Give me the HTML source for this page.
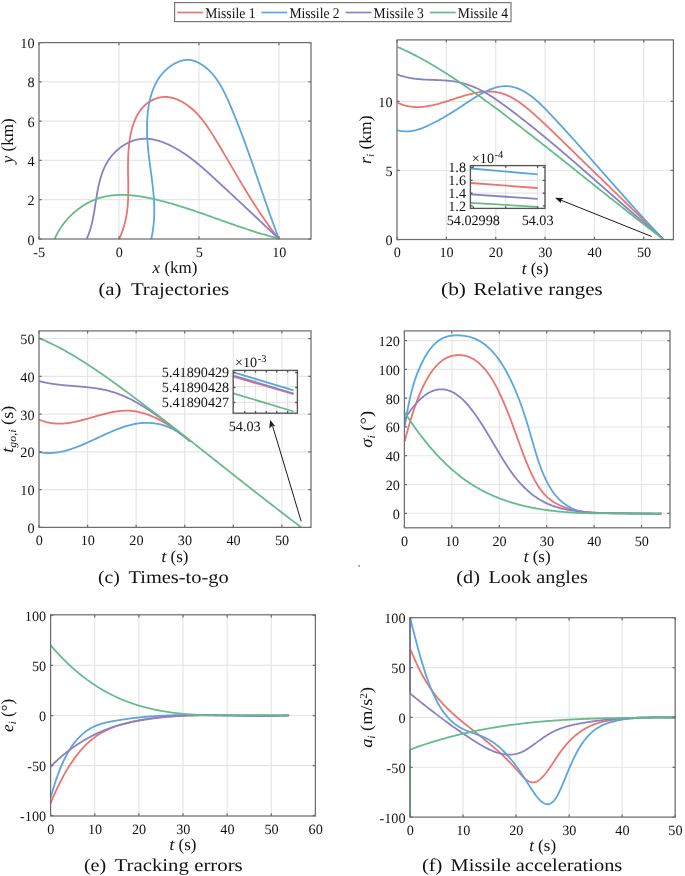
<!DOCTYPE html><html><head><meta charset="utf-8"><style>html,body{margin:0;padding:0;background:#fff;width:685px;height:876px;overflow:hidden}svg{display:block}text{font-family:"Liberation Serif","DejaVu Serif",serif;fill:#111;text-rendering:geometricPrecision}</style></head><body>
<svg width="685" height="876" viewBox="0 0 685 876">
<rect x="174.6" y="2.6" width="336.4" height="19" fill="#fff" stroke="#777" stroke-width="1.2"/>
<path d="M177.20,12.5H203.10" stroke="#EA746F" stroke-width="1.7"/>
<text x="205.20" y="17.7" font-size="14.8" textLength="50.3" lengthAdjust="spacingAndGlyphs">Missile 1</text>
<path d="M261.40,12.5H287.30" stroke="#5AA7DE" stroke-width="1.7"/>
<text x="289.40" y="17.7" font-size="14.8" textLength="50.3" lengthAdjust="spacingAndGlyphs">Missile 2</text>
<path d="M345.60,12.5H371.50" stroke="#8881C6" stroke-width="1.7"/>
<text x="373.60" y="17.7" font-size="14.8" textLength="50.3" lengthAdjust="spacingAndGlyphs">Missile 3</text>
<path d="M429.80,12.5H455.70" stroke="#66BC89" stroke-width="1.7"/>
<text x="457.80" y="17.7" font-size="14.8" textLength="50.3" lengthAdjust="spacingAndGlyphs">Missile 4</text>
<path d="M119.00,42.60V239.00M199.00,42.60V239.00M279.00,42.60V239.00M39.00,199.72H311.00M39.00,160.44H311.00M39.00,121.16H311.00M39.00,81.88H311.00" stroke="#e6e6e6" stroke-width="1.20" fill="none"/>
<path d="M118.96,239.41 L119.50,238.23 L120.02,237.05 L120.52,235.87 L121.00,234.70 L121.46,233.53 L121.90,232.36 L122.32,231.20 L122.73,230.04 L123.11,228.89 L123.48,227.73 L123.83,226.58 L124.16,225.44 L124.48,224.30 L124.78,223.16 L125.07,222.02 L125.34,220.88 L125.59,219.75 L125.83,218.62 L126.06,217.49 L126.27,216.36 L126.47,215.24 L126.66,214.11 L126.83,212.99 L126.99,211.87 L127.14,210.75 L127.28,209.63 L127.41,208.51 L127.52,207.39 L127.63,206.28 L127.73,205.16 L127.81,204.05 L127.89,202.93 L127.96,201.81 L128.02,200.70 L128.08,199.58 L128.12,198.47 L128.16,197.35 L128.19,196.24 L128.22,195.12 L128.24,194.00 L128.26,192.88 L128.27,191.76 L128.27,190.64 L128.27,189.52 L128.27,188.39 L128.26,187.27 L128.25,186.14 L128.24,185.01 L128.23,183.88 L128.21,182.75 L128.19,181.61 L128.17,180.48 L128.16,179.34 L128.14,178.19 L128.12,177.05 L128.10,175.90 L128.08,174.75 L128.06,173.59 L128.05,172.43 L128.03,171.27 L128.02,170.11 L128.02,168.94 L128.01,167.77 L128.01,166.59 L128.01,165.41 L128.02,164.22 L128.03,163.03 L128.05,161.84 L128.08,160.64 L128.10,159.44 L128.14,158.23 L128.18,157.02 L128.23,155.80 L128.29,154.58 L128.36,153.35 L128.43,152.12 L128.51,150.89 L128.61,149.66 L128.71,148.42 L128.82,147.19 L128.94,145.95 L129.07,144.72 L129.21,143.48 L129.37,142.25 L129.53,141.03 L129.71,139.80 L129.90,138.58 L130.10,137.37 L130.32,136.16 L130.54,134.95 L130.79,133.75 L131.04,132.56 L131.32,131.38 L131.60,130.21 L131.90,129.04 L132.22,127.89 L132.55,126.74 L132.90,125.61 L133.27,124.49 L133.65,123.38 L134.05,122.28 L134.47,121.20 L134.91,120.13 L135.36,119.07 L135.84,118.03 L136.33,117.01 L136.84,116.01 L137.38,115.02 L137.93,114.05 L138.50,113.10 L139.10,112.17 L139.71,111.25 L140.35,110.36 L141.01,109.49 L141.70,108.65 L142.40,107.82 L143.13,107.02 L143.89,106.24 L144.66,105.49 L145.46,104.76 L146.29,104.06 L147.14,103.38 L148.02,102.73 L148.92,102.11 L149.85,101.52 L150.80,100.95 L151.79,100.42 L152.80,99.92 L153.83,99.44 L154.89,99.01 L155.97,98.60 L157.06,98.24 L158.18,97.92 L159.30,97.64 L160.44,97.40 L161.59,97.21 L162.75,97.06 L163.91,96.97 L165.07,96.93 L166.23,96.94 L167.40,97.01 L168.56,97.12 L169.71,97.29 L170.86,97.50 L172.01,97.76 L173.15,98.07 L174.28,98.41 L175.41,98.79 L176.52,99.21 L177.63,99.66 L178.72,100.14 L179.80,100.65 L180.86,101.19 L181.92,101.75 L182.95,102.34 L183.97,102.94 L184.97,103.57 L185.96,104.21 L186.93,104.88 L187.88,105.55 L188.82,106.25 L189.74,106.96 L190.65,107.69 L191.54,108.44 L192.42,109.20 L193.29,109.98 L194.14,110.76 L194.98,111.57 L195.80,112.39 L196.62,113.22 L197.42,114.06 L198.21,114.91 L198.99,115.78 L199.76,116.66 L200.51,117.55 L201.26,118.45 L202.00,119.36 L202.72,120.27 L203.44,121.20 L204.15,122.14 L204.85,123.08 L205.55,124.03 L206.23,124.99 L206.91,125.96 L207.58,126.93 L208.25,127.91 L208.90,128.89 L209.56,129.88 L210.20,130.87 L210.85,131.87 L211.48,132.87 L212.11,133.87 L212.74,134.88 L213.37,135.89 L213.99,136.90 L214.61,137.91 L215.22,138.92 L215.84,139.93 L216.45,140.95 L217.06,141.96 L217.67,142.97 L218.27,143.98 L218.88,145.00 L219.48,146.01 L220.08,147.02 L220.69,148.03 L221.29,149.04 L221.88,150.05 L222.48,151.06 L223.08,152.07 L223.67,153.08 L224.27,154.09 L224.86,155.10 L225.45,156.10 L226.04,157.11 L226.64,158.12 L227.23,159.12 L227.82,160.13 L228.40,161.14 L228.99,162.14 L229.58,163.14 L230.17,164.15 L230.76,165.15 L231.34,166.16 L231.93,167.16 L232.52,168.16 L233.10,169.16 L233.69,170.16 L234.28,171.16 L234.86,172.16 L235.45,173.16 L236.04,174.16 L236.63,175.16 L237.21,176.15 L237.80,177.15 L238.39,178.15 L238.98,179.14 L239.57,180.14 L240.16,181.13 L240.75,182.12 L241.34,183.12 L241.93,184.11 L242.53,185.10 L243.12,186.09 L243.72,187.08 L244.31,188.07 L244.91,189.05 L245.51,190.04 L246.11,191.03 L246.71,192.01 L247.31,193.00 L247.92,193.98 L248.52,194.96 L249.13,195.95 L249.74,196.93 L250.35,197.91 L250.96,198.89 L251.57,199.87 L252.19,200.84 L252.80,201.82 L253.42,202.80 L254.04,203.77 L254.67,204.75 L255.29,205.72 L255.92,206.69 L256.55,207.66 L257.18,208.63 L257.81,209.60 L258.45,210.57 L259.09,211.54 L259.73,212.50 L260.38,213.47 L261.02,214.43 L261.67,215.39 L262.32,216.35 L262.98,217.31 L263.64,218.27 L264.30,219.23 L264.96,220.19 L265.63,221.15 L266.30,222.10 L266.97,223.05 L267.65,224.01 L268.33,224.96 L269.01,225.91 L269.70,226.86 L270.39,227.81 L271.08,228.75 L271.78,229.70 L272.48,230.64 L273.18,231.59 L273.89,232.53 L274.61,233.47 L275.32,234.41 L276.04,235.34 L276.76,236.28 L277.49,237.22 L278.23,238.15 L278.96,239.08" stroke="#EA746F" stroke-width="1.80" fill="none" stroke-linejoin="round" stroke-linecap="butt"/>
<path d="M151.18,239.27 L151.50,237.85 L151.79,236.43 L152.07,235.02 L152.33,233.61 L152.57,232.21 L152.79,230.81 L153.00,229.42 L153.19,228.03 L153.36,226.64 L153.52,225.26 L153.66,223.88 L153.79,222.51 L153.90,221.14 L153.99,219.77 L154.07,218.41 L154.14,217.05 L154.20,215.69 L154.24,214.34 L154.27,212.99 L154.28,211.64 L154.29,210.30 L154.28,208.95 L154.26,207.61 L154.23,206.28 L154.19,204.94 L154.14,203.61 L154.08,202.28 L154.01,200.95 L153.94,199.62 L153.85,198.29 L153.76,196.97 L153.65,195.64 L153.54,194.32 L153.43,193.00 L153.30,191.68 L153.17,190.36 L153.04,189.04 L152.90,187.72 L152.75,186.40 L152.60,185.08 L152.45,183.76 L152.29,182.44 L152.12,181.13 L151.96,179.81 L151.79,178.49 L151.62,177.17 L151.45,175.85 L151.27,174.53 L151.09,173.21 L150.92,171.88 L150.74,170.56 L150.56,169.24 L150.38,167.91 L150.21,166.58 L150.03,165.25 L149.85,163.92 L149.68,162.59 L149.51,161.25 L149.34,159.91 L149.17,158.57 L149.01,157.23 L148.85,155.89 L148.70,154.54 L148.55,153.19 L148.40,151.84 L148.26,150.48 L148.12,149.12 L147.99,147.76 L147.87,146.39 L147.75,145.02 L147.64,143.65 L147.54,142.27 L147.45,140.89 L147.36,139.51 L147.28,138.12 L147.21,136.72 L147.15,135.33 L147.10,133.92 L147.06,132.52 L147.03,131.11 L147.01,129.69 L147.01,128.27 L147.01,126.85 L147.03,125.43 L147.05,124.01 L147.10,122.59 L147.15,121.16 L147.22,119.74 L147.30,118.32 L147.40,116.90 L147.51,115.48 L147.63,114.07 L147.78,112.65 L147.93,111.25 L148.11,109.85 L148.30,108.45 L148.51,107.06 L148.73,105.68 L148.97,104.30 L149.24,102.93 L149.52,101.57 L149.82,100.22 L150.13,98.88 L150.47,97.54 L150.83,96.22 L151.21,94.91 L151.61,93.62 L152.04,92.33 L152.48,91.06 L152.95,89.80 L153.43,88.56 L153.95,87.33 L154.48,86.12 L155.04,84.92 L155.62,83.74 L156.23,82.58 L156.87,81.43 L157.52,80.30 L158.21,79.20 L158.92,78.11 L159.66,77.04 L160.42,76.00 L161.21,74.97 L162.03,73.97 L162.88,72.99 L163.75,72.03 L164.66,71.10 L165.59,70.19 L166.56,69.31 L167.55,68.45 L168.58,67.62 L169.63,66.81 L170.72,66.04 L171.84,65.29 L172.99,64.57 L174.17,63.88 L175.38,63.22 L176.62,62.61 L177.89,62.04 L179.17,61.52 L180.47,61.06 L181.78,60.66 L183.11,60.33 L184.44,60.08 L185.77,59.91 L187.11,59.83 L188.44,59.84 L189.76,59.95 L191.08,60.15 L192.39,60.43 L193.68,60.78 L194.96,61.21 L196.22,61.70 L197.47,62.25 L198.69,62.86 L199.89,63.51 L201.07,64.20 L202.22,64.93 L203.34,65.68 L204.43,66.47 L205.50,67.29 L206.54,68.13 L207.55,69.00 L208.54,69.90 L209.51,70.83 L210.45,71.78 L211.37,72.75 L212.26,73.74 L213.14,74.76 L214.00,75.80 L214.83,76.86 L215.65,77.94 L216.44,79.04 L217.22,80.15 L217.98,81.29 L218.73,82.44 L219.45,83.60 L220.17,84.78 L220.86,85.97 L221.55,87.17 L222.22,88.39 L222.88,89.61 L223.52,90.85 L224.15,92.10 L224.78,93.35 L225.39,94.61 L225.99,95.88 L226.59,97.15 L227.17,98.43 L227.75,99.71 L228.33,100.99 L228.89,102.28 L229.45,103.57 L230.01,104.85 L230.56,106.14 L231.11,107.43 L231.65,108.71 L232.19,110.00 L232.73,111.28 L233.26,112.56 L233.79,113.85 L234.32,115.13 L234.84,116.41 L235.36,117.69 L235.87,118.97 L236.39,120.25 L236.90,121.53 L237.40,122.81 L237.90,124.08 L238.40,125.36 L238.90,126.64 L239.40,127.91 L239.89,129.19 L240.38,130.46 L240.86,131.74 L241.35,133.01 L241.83,134.28 L242.31,135.55 L242.78,136.83 L243.26,138.10 L243.73,139.37 L244.20,140.64 L244.67,141.91 L245.13,143.18 L245.60,144.46 L246.06,145.73 L246.52,147.00 L246.98,148.27 L247.43,149.54 L247.89,150.80 L248.34,152.07 L248.79,153.34 L249.24,154.61 L249.69,155.88 L250.14,157.15 L250.59,158.42 L251.03,159.69 L251.47,160.96 L251.92,162.23 L252.36,163.49 L252.80,164.76 L253.24,166.03 L253.68,167.30 L254.12,168.57 L254.55,169.84 L254.99,171.11 L255.43,172.38 L255.86,173.65 L256.30,174.92 L256.73,176.19 L257.17,177.46 L257.60,178.73 L258.04,180.00 L258.47,181.27 L258.91,182.54 L259.34,183.82 L259.78,185.09 L260.21,186.36 L260.64,187.63 L261.08,188.91 L261.52,190.18 L261.95,191.46 L262.39,192.73 L262.82,194.01 L263.26,195.28 L263.70,196.56 L264.14,197.83 L264.58,199.11 L265.02,200.39 L265.46,201.67 L265.90,202.95 L266.35,204.23 L266.79,205.51 L267.24,206.79 L267.69,208.07 L268.14,209.35 L268.59,210.64 L269.04,211.92 L269.49,213.21 L269.94,214.49 L270.40,215.78 L270.86,217.07 L271.32,218.36 L271.78,219.64 L272.24,220.93 L272.71,222.23 L273.18,223.52 L273.65,224.81 L274.12,226.10 L274.59,227.40 L275.07,228.70 L275.55,229.99 L276.03,231.29 L276.51,232.59 L277.00,233.89 L277.49,235.19 L277.98,236.49 L278.48,237.80 L278.97,239.10" stroke="#5AA7DE" stroke-width="1.80" fill="none" stroke-linejoin="round" stroke-linecap="butt"/>
<path d="M86.67,238.70 L87.06,237.87 L87.44,237.04 L87.81,236.19 L88.17,235.34 L88.51,234.48 L88.84,233.61 L89.16,232.73 L89.48,231.84 L89.78,230.95 L90.07,230.05 L90.35,229.14 L90.62,228.22 L90.88,227.30 L91.13,226.37 L91.38,225.43 L91.62,224.49 L91.85,223.54 L92.07,222.59 L92.29,221.63 L92.50,220.66 L92.70,219.69 L92.90,218.72 L93.09,217.74 L93.28,216.76 L93.46,215.77 L93.64,214.78 L93.82,213.78 L93.99,212.78 L94.16,211.78 L94.33,210.78 L94.49,209.77 L94.65,208.76 L94.81,207.75 L94.97,206.74 L95.13,205.72 L95.29,204.71 L95.45,203.69 L95.60,202.67 L95.76,201.65 L95.92,200.63 L96.08,199.61 L96.24,198.59 L96.41,197.57 L96.57,196.55 L96.74,195.53 L96.92,194.51 L97.09,193.50 L97.27,192.48 L97.46,191.47 L97.64,190.46 L97.84,189.45 L98.04,188.44 L98.24,187.44 L98.45,186.43 L98.67,185.44 L98.89,184.44 L99.12,183.45 L99.36,182.46 L99.61,181.48 L99.86,180.50 L100.12,179.52 L100.39,178.55 L100.68,177.58 L100.97,176.62 L101.27,175.67 L101.58,174.72 L101.90,173.78 L102.23,172.84 L102.58,171.91 L102.93,170.98 L103.30,170.07 L103.68,169.16 L104.08,168.25 L104.49,167.36 L104.91,166.47 L105.34,165.59 L105.79,164.72 L106.26,163.86 L106.74,163.00 L107.23,162.16 L107.74,161.32 L108.27,160.50 L108.81,159.68 L109.37,158.87 L109.95,158.08 L110.54,157.29 L111.14,156.52 L111.76,155.76 L112.40,155.00 L113.04,154.27 L113.70,153.54 L114.38,152.83 L115.07,152.13 L115.77,151.44 L116.48,150.77 L117.21,150.11 L117.94,149.47 L118.69,148.84 L119.45,148.23 L120.22,147.63 L121.00,147.05 L121.79,146.49 L122.60,145.94 L123.41,145.41 L124.23,144.90 L125.06,144.40 L125.90,143.93 L126.75,143.47 L127.60,143.03 L128.47,142.61 L129.34,142.21 L130.22,141.82 L131.11,141.46 L132.00,141.12 L132.90,140.80 L133.80,140.51 L134.72,140.23 L135.63,139.98 L136.56,139.74 L137.48,139.53 L138.42,139.35 L139.35,139.18 L140.29,139.04 L141.24,138.93 L142.19,138.84 L143.14,138.77 L144.09,138.73 L145.05,138.71 L146.01,138.72 L146.97,138.76 L147.93,138.81 L148.89,138.89 L149.86,138.99 L150.83,139.11 L151.80,139.26 L152.76,139.42 L153.73,139.61 L154.70,139.81 L155.67,140.04 L156.64,140.28 L157.61,140.54 L158.57,140.82 L159.54,141.11 L160.50,141.42 L161.46,141.75 L162.42,142.09 L163.38,142.45 L164.34,142.82 L165.29,143.21 L166.24,143.61 L167.19,144.02 L168.13,144.44 L169.07,144.88 L170.00,145.32 L170.93,145.78 L171.86,146.25 L172.78,146.72 L173.70,147.21 L174.61,147.70 L175.51,148.20 L176.41,148.71 L177.31,149.23 L178.19,149.75 L179.08,150.28 L179.95,150.81 L180.82,151.35 L181.68,151.90 L182.53,152.44 L183.38,153.00 L184.23,153.56 L185.06,154.12 L185.90,154.69 L186.72,155.26 L187.54,155.84 L188.36,156.42 L189.17,157.01 L189.98,157.60 L190.78,158.19 L191.57,158.79 L192.37,159.39 L193.15,160.00 L193.94,160.61 L194.72,161.22 L195.49,161.84 L196.26,162.46 L197.03,163.08 L197.79,163.71 L198.55,164.34 L199.31,164.97 L200.07,165.60 L200.82,166.24 L201.57,166.88 L202.31,167.52 L203.06,168.17 L203.80,168.81 L204.54,169.46 L205.27,170.11 L206.01,170.77 L206.74,171.42 L207.47,172.08 L208.20,172.74 L208.93,173.40 L209.66,174.06 L210.38,174.72 L211.11,175.38 L211.83,176.05 L212.56,176.71 L213.28,177.38 L214.00,178.04 L214.72,178.71 L215.45,179.38 L216.17,180.05 L216.89,180.72 L217.61,181.38 L218.33,182.05 L219.06,182.72 L219.78,183.39 L220.50,184.06 L221.23,184.73 L221.95,185.40 L222.67,186.07 L223.39,186.74 L224.12,187.42 L224.84,188.09 L225.56,188.76 L226.29,189.43 L227.01,190.10 L227.74,190.78 L228.46,191.45 L229.18,192.12 L229.91,192.79 L230.63,193.47 L231.36,194.14 L232.08,194.82 L232.80,195.49 L233.53,196.16 L234.25,196.84 L234.98,197.51 L235.70,198.19 L236.42,198.86 L237.15,199.54 L237.87,200.22 L238.60,200.89 L239.32,201.57 L240.04,202.24 L240.77,202.92 L241.49,203.60 L242.22,204.27 L242.94,204.95 L243.66,205.63 L244.39,206.31 L245.11,206.98 L245.84,207.66 L246.56,208.34 L247.28,209.02 L248.01,209.70 L248.73,210.38 L249.45,211.06 L250.18,211.74 L250.90,212.42 L251.62,213.09 L252.35,213.77 L253.07,214.45 L253.79,215.13 L254.51,215.82 L255.24,216.50 L255.96,217.18 L256.68,217.86 L257.40,218.54 L258.13,219.22 L258.85,219.90 L259.57,220.58 L260.29,221.26 L261.01,221.95 L261.73,222.63 L262.45,223.31 L263.17,223.99 L263.89,224.67 L264.61,225.36 L265.33,226.04 L266.05,226.72 L266.77,227.41 L267.49,228.09 L268.21,228.77 L268.93,229.46 L269.65,230.14 L270.37,230.82 L271.09,231.51 L271.81,232.19 L272.52,232.88 L273.24,233.56 L273.96,234.24 L274.68,234.93 L275.39,235.61 L276.11,236.30 L276.82,236.98 L277.54,237.67 L278.26,238.35 L278.97,239.04" stroke="#8881C6" stroke-width="1.80" fill="none" stroke-linejoin="round" stroke-linecap="butt"/>
<path d="M54.57,239.18 L54.90,238.42 L55.23,237.66 L55.58,236.90 L55.93,236.14 L56.30,235.39 L56.68,234.64 L57.06,233.90 L57.46,233.16 L57.86,232.42 L58.27,231.69 L58.70,230.96 L59.13,230.24 L59.57,229.52 L60.02,228.80 L60.48,228.09 L60.95,227.39 L61.42,226.69 L61.91,225.99 L62.40,225.30 L62.90,224.62 L63.41,223.94 L63.93,223.26 L64.45,222.59 L64.98,221.93 L65.52,221.27 L66.07,220.62 L66.63,219.97 L67.19,219.33 L67.76,218.70 L68.34,218.07 L68.92,217.45 L69.51,216.84 L70.11,216.23 L70.71,215.63 L71.32,215.03 L71.94,214.44 L72.56,213.86 L73.19,213.29 L73.83,212.72 L74.47,212.16 L75.11,211.61 L75.77,211.06 L76.43,210.53 L77.09,210.00 L77.76,209.47 L78.43,208.96 L79.11,208.45 L79.80,207.96 L80.49,207.47 L81.18,206.99 L81.88,206.51 L82.58,206.05 L83.29,205.59 L84.00,205.15 L84.72,204.71 L85.44,204.28 L86.16,203.86 L86.89,203.45 L87.63,203.04 L88.36,202.65 L89.10,202.27 L89.84,201.89 L90.59,201.53 L91.34,201.18 L92.09,200.83 L92.85,200.50 L93.61,200.17 L94.37,199.86 L95.13,199.56 L95.90,199.26 L96.66,198.98 L97.44,198.71 L98.21,198.44 L98.98,198.19 L99.76,197.95 L100.54,197.72 L101.32,197.50 L102.11,197.29 L102.89,197.09 L103.68,196.89 L104.47,196.71 L105.26,196.54 L106.05,196.38 L106.85,196.22 L107.65,196.08 L108.45,195.94 L109.25,195.81 L110.05,195.69 L110.85,195.58 L111.66,195.48 L112.46,195.39 L113.27,195.30 L114.08,195.23 L114.89,195.16 L115.70,195.10 L116.51,195.05 L117.33,195.00 L118.14,194.97 L118.96,194.94 L119.78,194.91 L120.60,194.90 L121.42,194.89 L122.24,194.89 L123.06,194.90 L123.88,194.91 L124.71,194.93 L125.53,194.96 L126.35,194.99 L127.18,195.03 L128.01,195.08 L128.83,195.13 L129.66,195.19 L130.49,195.25 L131.32,195.32 L132.15,195.40 L132.97,195.48 L133.80,195.57 L134.63,195.66 L135.46,195.76 L136.29,195.87 L137.13,195.97 L137.96,196.09 L138.79,196.21 L139.62,196.33 L140.45,196.46 L141.28,196.59 L142.11,196.73 L142.94,196.87 L143.77,197.01 L144.60,197.16 L145.43,197.31 L146.26,197.47 L147.09,197.63 L147.92,197.80 L148.75,197.97 L149.57,198.14 L150.40,198.31 L151.23,198.49 L152.06,198.67 L152.88,198.86 L153.71,199.04 L154.53,199.23 L155.35,199.43 L156.18,199.62 L157.00,199.82 L157.82,200.02 L158.64,200.22 L159.46,200.42 L160.28,200.63 L161.09,200.84 L161.91,201.05 L162.72,201.26 L163.54,201.47 L164.35,201.69 L165.16,201.91 L165.97,202.12 L166.78,202.35 L167.59,202.57 L168.40,202.79 L169.21,203.02 L170.01,203.25 L170.82,203.47 L171.62,203.70 L172.43,203.94 L173.23,204.17 L174.03,204.41 L174.83,204.64 L175.63,204.88 L176.43,205.12 L177.23,205.36 L178.03,205.60 L178.83,205.85 L179.62,206.09 L180.42,206.34 L181.21,206.59 L182.01,206.83 L182.80,207.08 L183.60,207.34 L184.39,207.59 L185.18,207.84 L185.97,208.10 L186.76,208.35 L187.55,208.61 L188.34,208.87 L189.13,209.13 L189.92,209.39 L190.71,209.65 L191.50,209.91 L192.28,210.17 L193.07,210.43 L193.86,210.70 L194.64,210.96 L195.43,211.23 L196.21,211.50 L197.00,211.76 L197.78,212.03 L198.57,212.30 L199.35,212.57 L200.13,212.84 L200.91,213.11 L201.70,213.38 L202.48,213.65 L203.26,213.93 L204.04,214.20 L204.82,214.47 L205.60,214.75 L206.39,215.02 L207.17,215.30 L207.95,215.57 L208.73,215.85 L209.51,216.12 L210.29,216.40 L211.07,216.68 L211.85,216.95 L212.63,217.23 L213.41,217.51 L214.19,217.79 L214.96,218.06 L215.74,218.34 L216.52,218.62 L217.30,218.90 L218.08,219.17 L218.86,219.45 L219.64,219.73 L220.42,220.01 L221.20,220.29 L221.98,220.56 L222.76,220.84 L223.54,221.12 L224.32,221.40 L225.10,221.67 L225.88,221.95 L226.66,222.23 L227.44,222.50 L228.22,222.78 L229.00,223.05 L229.78,223.33 L230.56,223.60 L231.34,223.88 L232.12,224.15 L232.90,224.43 L233.68,224.70 L234.47,224.97 L235.25,225.25 L236.03,225.52 L236.82,225.79 L237.60,226.06 L238.38,226.33 L239.17,226.60 L239.95,226.87 L240.74,227.13 L241.52,227.40 L242.31,227.67 L243.09,227.93 L243.88,228.20 L244.67,228.46 L245.46,228.72 L246.24,228.99 L247.03,229.25 L247.82,229.51 L248.61,229.77 L249.40,230.03 L250.19,230.28 L250.99,230.54 L251.78,230.80 L252.57,231.05 L253.36,231.30 L254.16,231.55 L254.95,231.80 L255.75,232.05 L256.55,232.30 L257.34,232.55 L258.14,232.79 L258.94,233.04 L259.74,233.28 L260.54,233.52 L261.34,233.76 L262.14,234.00 L262.94,234.24 L263.74,234.48 L264.55,234.71 L265.35,234.94 L266.16,235.17 L266.97,235.40 L267.77,235.63 L268.58,235.86 L269.39,236.08 L270.20,236.31 L271.01,236.53 L271.82,236.75 L272.64,236.97 L273.45,237.18 L274.27,237.40 L275.08,237.61 L275.90,237.82 L276.72,238.03 L277.54,238.24 L278.36,238.44 L279.18,238.65" stroke="#66BC89" stroke-width="1.80" fill="none" stroke-linejoin="round" stroke-linecap="butt"/>
<path d="M39.00,239.00V236.30M39.00,42.60V45.30M119.00,239.00V236.30M119.00,42.60V45.30M199.00,239.00V236.30M199.00,42.60V45.30M279.00,239.00V236.30M279.00,42.60V45.30M39.00,239.00H41.70M311.00,239.00H308.30M39.00,199.72H41.70M311.00,199.72H308.30M39.00,160.44H41.70M311.00,160.44H308.30M39.00,121.16H41.70M311.00,121.16H308.30M39.00,81.88H41.70M311.00,81.88H308.30M39.00,42.60H41.70M311.00,42.60H308.30" stroke="#6e6e6e" stroke-width="1.25" fill="none"/>
<rect x="39.00" y="42.60" width="272.00" height="196.40" fill="none" stroke="#6e6e6e" stroke-width="1.25"/>
<text x="39.25" y="256.80" font-size="14.20" text-anchor="middle" >-5</text>
<text x="119.25" y="256.80" font-size="14.20" text-anchor="middle" >0</text>
<text x="199.25" y="256.80" font-size="14.20" text-anchor="middle" >5</text>
<text x="279.25" y="256.80" font-size="14.20" text-anchor="middle" >10</text>
<text x="34.50" y="244.50" font-size="14.20" text-anchor="end" >0</text>
<text x="34.50" y="205.22" font-size="14.20" text-anchor="end" >2</text>
<text x="34.50" y="165.94" font-size="14.20" text-anchor="end" >4</text>
<text x="34.50" y="126.66" font-size="14.20" text-anchor="end" >6</text>
<text x="34.50" y="87.38" font-size="14.20" text-anchor="end" >8</text>
<text x="34.50" y="48.10" font-size="14.20" text-anchor="end" >10</text>
<text x="175.00" y="273.10" font-size="17.00" text-anchor="middle"><tspan font-style="italic">x</tspan> (km)</text>
<text transform="translate(13.00,140.80) rotate(-90)" font-size="17.00" text-anchor="middle"><tspan font-style="italic">y</tspan> (km)</text>
<text x="98.40" y="295.20" font-size="18.00" textLength="23.10" lengthAdjust="spacingAndGlyphs" fill="#222">(a)</text>
<text x="130.90" y="295.20" font-size="18.00" textLength="98.30" lengthAdjust="spacingAndGlyphs" fill="#222">Trajectories</text>
<path d="M446.36,39.90V239.50M495.71,39.90V239.50M545.07,39.90V239.50M594.43,39.90V239.50M643.79,39.90V239.50M397.00,170.48H673.40M397.00,101.46H673.40" stroke="#e6e6e6" stroke-width="1.20" fill="none"/>
<path d="M397.30,102.57 L398.30,103.04 L399.30,103.47 L400.30,103.88 L401.30,104.27 L402.30,104.62 L403.30,104.95 L404.30,105.25 L405.30,105.53 L406.30,105.78 L407.30,106.01 L408.30,106.22 L409.30,106.40 L410.30,106.55 L411.30,106.69 L412.30,106.80 L413.30,106.90 L414.30,106.97 L415.30,107.02 L416.30,107.05 L417.30,107.06 L418.30,107.06 L419.30,107.04 L420.30,106.99 L421.30,106.94 L422.30,106.86 L423.30,106.77 L424.30,106.66 L425.30,106.54 L426.30,106.41 L427.30,106.26 L428.30,106.09 L429.30,105.92 L430.30,105.73 L431.30,105.53 L432.30,105.31 L433.30,105.09 L434.30,104.86 L435.30,104.62 L436.30,104.36 L437.30,104.10 L438.30,103.83 L439.30,103.56 L440.30,103.27 L441.30,102.98 L442.30,102.69 L443.30,102.39 L444.30,102.08 L445.30,101.77 L446.30,101.45 L447.30,101.13 L448.30,100.81 L449.30,100.49 L450.30,100.16 L451.30,99.83 L452.30,99.50 L453.30,99.18 L454.30,98.85 L455.30,98.52 L456.30,98.19 L457.30,97.87 L458.30,97.54 L459.30,97.22 L460.30,96.91 L461.30,96.59 L462.30,96.29 L463.30,95.98 L464.30,95.68 L465.30,95.39 L466.30,95.11 L467.30,94.83 L468.30,94.56 L469.30,94.29 L470.30,94.04 L471.30,93.79 L472.30,93.55 L473.30,93.33 L474.30,93.11 L475.30,92.91 L476.30,92.72 L477.30,92.54 L478.30,92.37 L479.30,92.21 L480.30,92.07 L481.30,91.95 L482.30,91.83 L483.30,91.74 L484.30,91.66 L485.30,91.59 L486.30,91.55 L487.30,91.52 L488.30,91.50 L489.30,91.51 L490.30,91.54 L491.30,91.58 L492.30,91.65 L493.30,91.73 L494.30,91.84 L495.30,91.97 L496.30,92.12 L497.30,92.29 L498.30,92.49 L499.30,92.71 L500.30,92.95 L501.30,93.22 L502.30,93.51 L503.30,93.83 L504.30,94.18 L505.30,94.55 L506.30,94.95 L507.30,95.38 L508.30,95.83 L509.30,96.31 L510.30,96.81 L511.30,97.33 L512.30,97.88 L513.30,98.45 L514.30,99.04 L515.30,99.66 L516.30,100.29 L517.30,100.94 L518.30,101.61 L519.30,102.31 L520.30,103.01 L521.30,103.74 L522.30,104.48 L523.30,105.24 L524.30,106.01 L525.30,106.80 L526.30,107.60 L527.30,108.41 L528.30,109.24 L529.30,110.08 L530.30,110.93 L531.30,111.78 L532.30,112.65 L533.30,113.53 L534.30,114.42 L535.30,115.31 L536.30,116.22 L537.30,117.12 L538.30,118.04 L539.30,118.96 L540.30,119.88 L541.30,120.81 L542.30,121.74 L543.30,122.67 L544.30,123.61 L545.30,124.55 L546.30,125.50 L547.30,126.45 L548.30,127.40 L549.30,128.35 L550.30,129.31 L551.30,130.27 L552.30,131.23 L553.30,132.19 L554.30,133.15 L555.30,134.12 L556.30,135.09 L557.30,136.06 L558.30,137.03 L559.30,138.00 L560.30,138.98 L561.30,139.95 L562.30,140.93 L563.30,141.90 L564.30,142.88 L565.30,143.86 L566.30,144.83 L567.30,145.81 L568.30,146.79 L569.30,147.76 L570.30,148.74 L571.30,149.72 L572.30,150.69 L573.30,151.67 L574.30,152.64 L575.30,153.62 L576.30,154.59 L577.30,155.57 L578.30,156.54 L579.30,157.52 L580.30,158.49 L581.30,159.46 L582.30,160.44 L583.30,161.41 L584.30,162.39 L585.30,163.36 L586.30,164.33 L587.30,165.30 L588.30,166.28 L589.30,167.25 L590.30,168.22 L591.30,169.19 L592.30,170.17 L593.30,171.14 L594.30,172.11 L595.30,173.08 L596.30,174.06 L597.30,175.03 L598.30,176.00 L599.30,176.97 L600.30,177.94 L601.30,178.91 L602.30,179.89 L603.30,180.86 L604.30,181.83 L605.30,182.80 L606.30,183.77 L607.30,184.74 L608.30,185.71 L609.30,186.68 L610.30,187.66 L611.30,188.63 L612.30,189.60 L613.30,190.57 L614.30,191.54 L615.30,192.51 L616.30,193.49 L617.30,194.46 L618.30,195.43 L619.30,196.40 L620.30,197.37 L621.30,198.34 L622.30,199.32 L623.30,200.29 L624.30,201.26 L625.30,202.23 L626.30,203.20 L627.30,204.18 L628.30,205.15 L629.30,206.12 L630.30,207.10 L631.30,208.07 L632.30,209.04 L633.30,210.02 L634.30,210.99 L635.30,211.96 L636.30,212.94 L637.30,213.91 L638.30,214.89 L639.30,215.86 L640.30,216.83 L641.30,217.81 L642.30,218.78 L643.30,219.76 L644.30,220.74 L645.30,221.71 L646.30,222.69 L647.30,223.66 L648.30,224.64 L649.30,225.62 L650.30,226.60 L651.30,227.57 L652.30,228.55 L653.30,229.53 L654.30,230.51 L655.30,231.49 L656.30,232.46 L657.30,233.44 L658.30,234.42 L659.30,235.40 L660.30,236.38 L661.30,237.37 L662.30,238.35 L663.30,239.33" stroke="#EA746F" stroke-width="1.80" fill="none" stroke-linejoin="round" stroke-linecap="butt"/>
<path d="M397.30,130.04 L398.30,130.35 L399.30,130.62 L400.30,130.85 L401.30,131.04 L402.30,131.20 L403.30,131.32 L404.30,131.40 L405.30,131.45 L406.30,131.47 L407.30,131.45 L408.30,131.40 L409.30,131.33 L410.30,131.22 L411.30,131.09 L412.30,130.93 L413.30,130.74 L414.30,130.53 L415.30,130.29 L416.30,130.03 L417.30,129.75 L418.30,129.45 L419.30,129.12 L420.30,128.78 L421.30,128.42 L422.30,128.05 L423.30,127.65 L424.30,127.25 L425.30,126.82 L426.30,126.39 L427.30,125.94 L428.30,125.49 L429.30,125.02 L430.30,124.54 L431.30,124.06 L432.30,123.56 L433.30,123.06 L434.30,122.56 L435.30,122.04 L436.30,121.52 L437.30,120.99 L438.30,120.45 L439.30,119.90 L440.30,119.35 L441.30,118.79 L442.30,118.23 L443.30,117.66 L444.30,117.08 L445.30,116.49 L446.30,115.90 L447.30,115.31 L448.30,114.71 L449.30,114.10 L450.30,113.49 L451.30,112.87 L452.30,112.25 L453.30,111.62 L454.30,110.99 L455.30,110.35 L456.30,109.71 L457.30,109.06 L458.30,108.41 L459.30,107.75 L460.30,107.10 L461.30,106.44 L462.30,105.77 L463.30,105.11 L464.30,104.44 L465.30,103.78 L466.30,103.11 L467.30,102.45 L468.30,101.79 L469.30,101.13 L470.30,100.48 L471.30,99.83 L472.30,99.19 L473.30,98.55 L474.30,97.92 L475.30,97.30 L476.30,96.69 L477.30,96.08 L478.30,95.49 L479.30,94.91 L480.30,94.34 L481.30,93.78 L482.30,93.24 L483.30,92.70 L484.30,92.19 L485.30,91.69 L486.30,91.20 L487.30,90.74 L488.30,90.29 L489.30,89.85 L490.30,89.44 L491.30,89.05 L492.30,88.68 L493.30,88.33 L494.30,88.01 L495.30,87.70 L496.30,87.42 L497.30,87.17 L498.30,86.94 L499.30,86.74 L500.30,86.56 L501.30,86.41 L502.30,86.29 L503.30,86.20 L504.30,86.14 L505.30,86.11 L506.30,86.12 L507.30,86.15 L508.30,86.22 L509.30,86.32 L510.30,86.46 L511.30,86.62 L512.30,86.83 L513.30,87.06 L514.30,87.33 L515.30,87.62 L516.30,87.95 L517.30,88.31 L518.30,88.70 L519.30,89.12 L520.30,89.57 L521.30,90.04 L522.30,90.55 L523.30,91.08 L524.30,91.64 L525.30,92.23 L526.30,92.84 L527.30,93.48 L528.30,94.15 L529.30,94.84 L530.30,95.56 L531.30,96.30 L532.30,97.06 L533.30,97.85 L534.30,98.66 L535.30,99.49 L536.30,100.34 L537.30,101.22 L538.30,102.12 L539.30,103.03 L540.30,103.97 L541.30,104.93 L542.30,105.90 L543.30,106.89 L544.30,107.90 L545.30,108.92 L546.30,109.95 L547.30,110.99 L548.30,112.03 L549.30,113.09 L550.30,114.14 L551.30,115.20 L552.30,116.26 L553.30,117.33 L554.30,118.40 L555.30,119.47 L556.30,120.54 L557.30,121.62 L558.30,122.70 L559.30,123.78 L560.30,124.86 L561.30,125.95 L562.30,127.04 L563.30,128.13 L564.30,129.22 L565.30,130.32 L566.30,131.42 L567.30,132.52 L568.30,133.62 L569.30,134.72 L570.30,135.83 L571.30,136.93 L572.30,138.04 L573.30,139.16 L574.30,140.27 L575.30,141.38 L576.30,142.50 L577.30,143.62 L578.30,144.74 L579.30,145.86 L580.30,146.98 L581.30,148.10 L582.30,149.23 L583.30,150.35 L584.30,151.48 L585.30,152.61 L586.30,153.74 L587.30,154.87 L588.30,156.00 L589.30,157.13 L590.30,158.26 L591.30,159.39 L592.30,160.53 L593.30,161.66 L594.30,162.80 L595.30,163.93 L596.30,165.07 L597.30,166.20 L598.30,167.34 L599.30,168.48 L600.30,169.61 L601.30,170.75 L602.30,171.89 L603.30,173.03 L604.30,174.16 L605.30,175.30 L606.30,176.44 L607.30,177.58 L608.30,178.71 L609.30,179.85 L610.30,180.99 L611.30,182.12 L612.30,183.26 L613.30,184.39 L614.30,185.53 L615.30,186.66 L616.30,187.79 L617.30,188.92 L618.30,190.06 L619.30,191.19 L620.30,192.32 L621.30,193.44 L622.30,194.57 L623.30,195.70 L624.30,196.82 L625.30,197.95 L626.30,199.07 L627.30,200.19 L628.30,201.31 L629.30,202.43 L630.30,203.55 L631.30,204.66 L632.30,205.78 L633.30,206.89 L634.30,208.00 L635.30,209.11 L636.30,210.22 L637.30,211.32 L638.30,212.43 L639.30,213.53 L640.30,214.63 L641.30,215.72 L642.30,216.82 L643.30,217.91 L644.30,219.00 L645.30,220.09 L646.30,221.17 L647.30,222.26 L648.30,223.34 L649.30,224.42 L650.30,225.49 L651.30,226.56 L652.30,227.63 L653.30,228.70 L654.30,229.77 L655.30,230.83 L656.30,231.89 L657.30,232.94 L658.30,233.99 L659.30,235.04 L660.30,236.09 L661.30,237.13 L662.30,238.17 L663.30,239.21" stroke="#5AA7DE" stroke-width="1.80" fill="none" stroke-linejoin="round" stroke-linecap="butt"/>
<path d="M397.30,74.51 L398.30,74.88 L399.30,75.23 L400.30,75.57 L401.30,75.88 L402.30,76.18 L403.30,76.47 L404.30,76.73 L405.30,76.99 L406.30,77.22 L407.30,77.45 L408.30,77.65 L409.30,77.85 L410.30,78.03 L411.30,78.20 L412.30,78.36 L413.30,78.51 L414.30,78.64 L415.30,78.77 L416.30,78.89 L417.30,78.99 L418.30,79.09 L419.30,79.18 L420.30,79.27 L421.30,79.34 L422.30,79.41 L423.30,79.48 L424.30,79.54 L425.30,79.59 L426.30,79.64 L427.30,79.68 L428.30,79.73 L429.30,79.77 L430.30,79.81 L431.30,79.84 L432.30,79.88 L433.30,79.91 L434.30,79.95 L435.30,79.98 L436.30,80.02 L437.30,80.06 L438.30,80.10 L439.30,80.14 L440.30,80.19 L441.30,80.24 L442.30,80.29 L443.30,80.35 L444.30,80.41 L445.30,80.48 L446.30,80.56 L447.30,80.64 L448.30,80.74 L449.30,80.84 L450.30,80.94 L451.30,81.06 L452.30,81.19 L453.30,81.32 L454.30,81.47 L455.30,81.63 L456.30,81.80 L457.30,81.98 L458.30,82.18 L459.30,82.39 L460.30,82.61 L461.30,82.85 L462.30,83.10 L463.30,83.36 L464.30,83.64 L465.30,83.93 L466.30,84.24 L467.30,84.56 L468.30,84.89 L469.30,85.23 L470.30,85.59 L471.30,85.97 L472.30,86.35 L473.30,86.76 L474.30,87.17 L475.30,87.60 L476.30,88.04 L477.30,88.50 L478.30,88.97 L479.30,89.45 L480.30,89.95 L481.30,90.46 L482.30,90.98 L483.30,91.52 L484.30,92.07 L485.30,92.64 L486.30,93.22 L487.30,93.81 L488.30,94.42 L489.30,95.03 L490.30,95.66 L491.30,96.30 L492.30,96.95 L493.30,97.61 L494.30,98.28 L495.30,98.96 L496.30,99.64 L497.30,100.33 L498.30,101.04 L499.30,101.74 L500.30,102.45 L501.30,103.17 L502.30,103.89 L503.30,104.62 L504.30,105.35 L505.30,106.09 L506.30,106.82 L507.30,107.56 L508.30,108.31 L509.30,109.05 L510.30,109.80 L511.30,110.55 L512.30,111.30 L513.30,112.06 L514.30,112.82 L515.30,113.58 L516.30,114.34 L517.30,115.11 L518.30,115.88 L519.30,116.65 L520.30,117.42 L521.30,118.20 L522.30,118.98 L523.30,119.76 L524.30,120.54 L525.30,121.33 L526.30,122.11 L527.30,122.90 L528.30,123.69 L529.30,124.49 L530.30,125.29 L531.30,126.08 L532.30,126.88 L533.30,127.69 L534.30,128.49 L535.30,129.30 L536.30,130.11 L537.30,130.92 L538.30,131.73 L539.30,132.54 L540.30,133.36 L541.30,134.18 L542.30,135.00 L543.30,135.82 L544.30,136.65 L545.30,137.47 L546.30,138.30 L547.30,139.13 L548.30,139.96 L549.30,140.79 L550.30,141.62 L551.30,142.46 L552.30,143.29 L553.30,144.13 L554.30,144.97 L555.30,145.81 L556.30,146.66 L557.30,147.50 L558.30,148.34 L559.30,149.19 L560.30,150.04 L561.30,150.89 L562.30,151.74 L563.30,152.59 L564.30,153.44 L565.30,154.30 L566.30,155.15 L567.30,156.01 L568.30,156.87 L569.30,157.73 L570.30,158.59 L571.30,159.45 L572.30,160.31 L573.30,161.17 L574.30,162.04 L575.30,162.90 L576.30,163.76 L577.30,164.63 L578.30,165.50 L579.30,166.37 L580.30,167.23 L581.30,168.10 L582.30,168.97 L583.30,169.84 L584.30,170.72 L585.30,171.59 L586.30,172.46 L587.30,173.33 L588.30,174.21 L589.30,175.08 L590.30,175.96 L591.30,176.83 L592.30,177.71 L593.30,178.58 L594.30,179.46 L595.30,180.34 L596.30,181.21 L597.30,182.09 L598.30,182.97 L599.30,183.84 L600.30,184.72 L601.30,185.60 L602.30,186.48 L603.30,187.36 L604.30,188.24 L605.30,189.11 L606.30,189.99 L607.30,190.87 L608.30,191.75 L609.30,192.63 L610.30,193.51 L611.30,194.39 L612.30,195.26 L613.30,196.14 L614.30,197.02 L615.30,197.90 L616.30,198.78 L617.30,199.65 L618.30,200.53 L619.30,201.41 L620.30,202.28 L621.30,203.16 L622.30,204.03 L623.30,204.91 L624.30,205.78 L625.30,206.66 L626.30,207.53 L627.30,208.40 L628.30,209.28 L629.30,210.15 L630.30,211.02 L631.30,211.89 L632.30,212.76 L633.30,213.63 L634.30,214.50 L635.30,215.36 L636.30,216.23 L637.30,217.10 L638.30,217.96 L639.30,218.83 L640.30,219.69 L641.30,220.55 L642.30,221.41 L643.30,222.27 L644.30,223.13 L645.30,223.99 L646.30,224.85 L647.30,225.70 L648.30,226.56 L649.30,227.41 L650.30,228.27 L651.30,229.12 L652.30,229.97 L653.30,230.82 L654.30,231.66 L655.30,232.51 L656.30,233.36 L657.30,234.20 L658.30,235.04 L659.30,235.88 L660.30,236.72 L661.30,237.56 L662.30,238.40 L663.30,239.23" stroke="#8881C6" stroke-width="1.80" fill="none" stroke-linejoin="round" stroke-linecap="butt"/>
<path d="M397.30,46.84 L398.30,47.27 L399.30,47.71 L400.30,48.15 L401.30,48.60 L402.30,49.05 L403.30,49.51 L404.30,49.97 L405.30,50.44 L406.30,50.91 L407.30,51.39 L408.30,51.87 L409.30,52.36 L410.30,52.86 L411.30,53.35 L412.30,53.86 L413.30,54.36 L414.30,54.87 L415.30,55.39 L416.30,55.91 L417.30,56.44 L418.30,56.97 L419.30,57.50 L420.30,58.04 L421.30,58.58 L422.30,59.13 L423.30,59.68 L424.30,60.24 L425.30,60.80 L426.30,61.36 L427.30,61.93 L428.30,62.51 L429.30,63.08 L430.30,63.66 L431.30,64.25 L432.30,64.84 L433.30,65.43 L434.30,66.02 L435.30,66.62 L436.30,67.23 L437.30,67.83 L438.30,68.44 L439.30,69.06 L440.30,69.68 L441.30,70.30 L442.30,70.92 L443.30,71.55 L444.30,72.18 L445.30,72.82 L446.30,73.46 L447.30,74.10 L448.30,74.74 L449.30,75.39 L450.30,76.04 L451.30,76.69 L452.30,77.35 L453.30,78.01 L454.30,78.67 L455.30,79.34 L456.30,80.01 L457.30,80.68 L458.30,81.35 L459.30,82.03 L460.30,82.71 L461.30,83.39 L462.30,84.07 L463.30,84.76 L464.30,85.45 L465.30,86.14 L466.30,86.84 L467.30,87.53 L468.30,88.23 L469.30,88.93 L470.30,89.64 L471.30,90.34 L472.30,91.05 L473.30,91.76 L474.30,92.47 L475.30,93.19 L476.30,93.90 L477.30,94.62 L478.30,95.34 L479.30,96.06 L480.30,96.79 L481.30,97.51 L482.30,98.24 L483.30,98.97 L484.30,99.70 L485.30,100.43 L486.30,101.16 L487.30,101.90 L488.30,102.63 L489.30,103.37 L490.30,104.11 L491.30,104.85 L492.30,105.59 L493.30,106.34 L494.30,107.08 L495.30,107.83 L496.30,108.57 L497.30,109.32 L498.30,110.07 L499.30,110.82 L500.30,111.57 L501.30,112.32 L502.30,113.07 L503.30,113.83 L504.30,114.58 L505.30,115.34 L506.30,116.10 L507.30,116.86 L508.30,117.61 L509.30,118.38 L510.30,119.14 L511.30,119.90 L512.30,120.66 L513.30,121.43 L514.30,122.19 L515.30,122.96 L516.30,123.72 L517.30,124.49 L518.30,125.26 L519.30,126.03 L520.30,126.80 L521.30,127.57 L522.30,128.34 L523.30,129.12 L524.30,129.89 L525.30,130.66 L526.30,131.44 L527.30,132.22 L528.30,132.99 L529.30,133.77 L530.30,134.55 L531.30,135.33 L532.30,136.11 L533.30,136.89 L534.30,137.67 L535.30,138.45 L536.30,139.23 L537.30,140.01 L538.30,140.80 L539.30,141.58 L540.30,142.36 L541.30,143.15 L542.30,143.94 L543.30,144.72 L544.30,145.51 L545.30,146.30 L546.30,147.08 L547.30,147.87 L548.30,148.66 L549.30,149.45 L550.30,150.24 L551.30,151.03 L552.30,151.82 L553.30,152.61 L554.30,153.40 L555.30,154.19 L556.30,154.99 L557.30,155.78 L558.30,156.57 L559.30,157.36 L560.30,158.16 L561.30,158.95 L562.30,159.75 L563.30,160.54 L564.30,161.33 L565.30,162.13 L566.30,162.92 L567.30,163.72 L568.30,164.52 L569.30,165.31 L570.30,166.11 L571.30,166.90 L572.30,167.70 L573.30,168.50 L574.30,169.29 L575.30,170.09 L576.30,170.89 L577.30,171.68 L578.30,172.48 L579.30,173.28 L580.30,174.08 L581.30,174.87 L582.30,175.67 L583.30,176.47 L584.30,177.27 L585.30,178.06 L586.30,178.86 L587.30,179.66 L588.30,180.45 L589.30,181.25 L590.30,182.05 L591.30,182.85 L592.30,183.64 L593.30,184.44 L594.30,185.24 L595.30,186.03 L596.30,186.83 L597.30,187.63 L598.30,188.42 L599.30,189.22 L600.30,190.02 L601.30,190.81 L602.30,191.61 L603.30,192.40 L604.30,193.20 L605.30,193.99 L606.30,194.79 L607.30,195.58 L608.30,196.37 L609.30,197.17 L610.30,197.96 L611.30,198.75 L612.30,199.55 L613.30,200.34 L614.30,201.13 L615.30,201.92 L616.30,202.71 L617.30,203.50 L618.30,204.29 L619.30,205.08 L620.30,205.87 L621.30,206.66 L622.30,207.45 L623.30,208.24 L624.30,209.02 L625.30,209.81 L626.30,210.60 L627.30,211.38 L628.30,212.17 L629.30,212.95 L630.30,213.73 L631.30,214.52 L632.30,215.30 L633.30,216.08 L634.30,216.86 L635.30,217.64 L636.30,218.43 L637.30,219.20 L638.30,219.98 L639.30,220.76 L640.30,221.54 L641.30,222.32 L642.30,223.09 L643.30,223.87 L644.30,224.64 L645.30,225.41 L646.30,226.19 L647.30,226.96 L648.30,227.73 L649.30,228.50 L650.30,229.27 L651.30,230.04 L652.30,230.81 L653.30,231.57 L654.30,232.34 L655.30,233.10 L656.30,233.87 L657.30,234.63 L658.30,235.39 L659.30,236.15 L660.30,236.91 L661.30,237.67 L662.30,238.43 L663.30,239.19" stroke="#66BC89" stroke-width="1.80" fill="none" stroke-linejoin="round" stroke-linecap="butt"/>
<path d="M397.00,239.50V236.80M397.00,39.90V42.60M446.36,239.50V236.80M446.36,39.90V42.60M495.71,239.50V236.80M495.71,39.90V42.60M545.07,239.50V236.80M545.07,39.90V42.60M594.43,239.50V236.80M594.43,39.90V42.60M643.79,239.50V236.80M643.79,39.90V42.60M397.00,239.50H399.70M673.40,239.50H670.70M397.00,170.48H399.70M673.40,170.48H670.70M397.00,101.46H399.70M673.40,101.46H670.70" stroke="#6e6e6e" stroke-width="1.25" fill="none"/>
<rect x="397.00" y="39.90" width="276.40" height="199.60" fill="none" stroke="#6e6e6e" stroke-width="1.25"/>
<text x="397.25" y="257.30" font-size="14.20" text-anchor="middle" >0</text>
<text x="446.61" y="257.30" font-size="14.20" text-anchor="middle" >10</text>
<text x="495.96" y="257.30" font-size="14.20" text-anchor="middle" >20</text>
<text x="545.32" y="257.30" font-size="14.20" text-anchor="middle" >30</text>
<text x="594.68" y="257.30" font-size="14.20" text-anchor="middle" >40</text>
<text x="644.04" y="257.30" font-size="14.20" text-anchor="middle" >50</text>
<text x="392.50" y="245.00" font-size="14.20" text-anchor="end" >0</text>
<text x="392.50" y="175.98" font-size="14.20" text-anchor="end" >5</text>
<text x="392.50" y="106.96" font-size="14.20" text-anchor="end" >10</text>
<text x="535.20" y="273.60" font-size="17.00" text-anchor="middle"><tspan font-style="italic">t</tspan> (s)</text>
<text transform="translate(371.10,139.70) rotate(-90)" font-size="17.00" text-anchor="middle" textLength="48.5" lengthAdjust="spacingAndGlyphs"><tspan font-style="italic">r</tspan><tspan font-style="italic" font-size="11" dy="3.2">i</tspan><tspan dy="-3.2"> </tspan>(km)</text>
<text x="441.10" y="295.00" font-size="18.00" textLength="24.90" lengthAdjust="spacingAndGlyphs" fill="#222">(b)</text>
<text x="473.60" y="295.00" font-size="18.00" textLength="129.00" lengthAdjust="spacingAndGlyphs" fill="#222">Relative ranges</text>
<rect x="470.40" y="165.60" width="74.60" height="42.80" fill="#fff"/>
<path d="M505.70,165.60V208.40M537.60,165.60V208.40M470.40,180.40H545.00M470.40,193.20H545.00" stroke="#e6e6e6" stroke-width="1.20" fill="none"/>
<path d="M470.7,168.50L537.6,174.30" stroke="#5AA7DE" stroke-width="1.8"/>
<path d="M470.7,183.00L537.6,188.00" stroke="#EA746F" stroke-width="1.8"/>
<path d="M470.7,194.40L537.6,198.80" stroke="#8881C6" stroke-width="1.8"/>
<path d="M470.7,202.80L537.6,206.90" stroke="#66BC89" stroke-width="1.8"/>
<path d="M473.30,208.40V206.20M473.30,165.60V167.80M505.70,208.40V206.20M505.70,165.60V167.80M537.60,208.40V206.20M537.60,165.60V167.80M470.40,167.30H472.60M545.00,167.30H542.80M470.40,180.40H472.60M545.00,180.40H542.80M470.40,193.20H472.60M545.00,193.20H542.80M470.40,205.80H472.60M545.00,205.80H542.80" stroke="#555" stroke-width="1.35" fill="none"/>
<rect x="470.40" y="165.60" width="74.60" height="42.80" fill="none" stroke="#555" stroke-width="1.35"/>
<text x="466.00" y="172.00" font-size="14.20" text-anchor="end" >1.8</text>
<text x="466.00" y="185.10" font-size="14.20" text-anchor="end" >1.6</text>
<text x="466.00" y="197.90" font-size="14.20" text-anchor="end" >1.4</text>
<text x="466.00" y="210.50" font-size="14.20" text-anchor="end" >1.2</text>
<text x="471.80" y="163.00" font-size="14.20" text-anchor="start" >×10</text>
<text x="494.50" y="157.80" font-size="10.50" text-anchor="start" >-4</text>
<text x="473.30" y="225.40" font-size="14.20" text-anchor="middle" >54.02998</text>
<text x="537.60" y="225.40" font-size="14.20" text-anchor="middle" >54.03</text>
<path d="M651.7,236.5L560,199.8" stroke="#1a1a1a" stroke-width="1"/>
<path d="M555,197.7L563.5,197.9L561.2,199.9L560.7,203Z" fill="#1a1a1a"/>
<path d="M87.57,330.90V527.40M136.14,330.90V527.40M184.71,330.90V527.40M233.29,330.90V527.40M281.86,330.90V527.40M39.00,489.64H311.00M39.00,451.88H311.00M39.00,414.12H311.00M39.00,376.36H311.00M39.00,338.60H311.00" stroke="#e6e6e6" stroke-width="1.20" fill="none"/>
<path d="M39.10,419.53 L40.10,419.97 L41.10,420.37 L42.10,420.75 L43.10,421.10 L44.10,421.43 L45.10,421.74 L46.10,422.02 L47.10,422.27 L48.10,422.50 L49.10,422.71 L50.10,422.90 L51.10,423.07 L52.10,423.21 L53.10,423.33 L54.10,423.44 L55.10,423.52 L56.10,423.58 L57.10,423.63 L58.10,423.66 L59.10,423.67 L60.10,423.66 L61.10,423.63 L62.10,423.59 L63.10,423.54 L64.10,423.47 L65.10,423.38 L66.10,423.28 L67.10,423.17 L68.10,423.04 L69.10,422.90 L70.10,422.75 L71.10,422.58 L72.10,422.41 L73.10,422.22 L74.10,422.03 L75.10,421.83 L76.10,421.61 L77.10,421.39 L78.10,421.16 L79.10,420.92 L80.10,420.68 L81.10,420.43 L82.10,420.17 L83.10,419.91 L84.10,419.64 L85.10,419.37 L86.10,419.09 L87.10,418.81 L88.10,418.53 L89.10,418.24 L90.10,417.96 L91.10,417.67 L92.10,417.38 L93.10,417.09 L94.10,416.80 L95.10,416.51 L96.10,416.23 L97.10,415.94 L98.10,415.66 L99.10,415.37 L100.10,415.10 L101.10,414.82 L102.10,414.55 L103.10,414.29 L104.10,414.03 L105.10,413.77 L106.10,413.52 L107.10,413.28 L108.10,413.05 L109.10,412.82 L110.10,412.60 L111.10,412.39 L112.10,412.19 L113.10,412.00 L114.10,411.82 L115.10,411.65 L116.10,411.49 L117.10,411.35 L118.10,411.21 L119.10,411.09 L120.10,410.98 L121.10,410.89 L122.10,410.81 L123.10,410.74 L124.10,410.70 L125.10,410.66 L126.10,410.64 L127.10,410.64 L128.10,410.66 L129.10,410.70 L130.10,410.75 L131.10,410.82 L132.10,410.91 L133.10,411.02 L134.10,411.15 L135.10,411.29 L136.10,411.45 L137.10,411.63 L138.10,411.83 L139.10,412.05 L140.10,412.28 L141.10,412.53 L142.10,412.79 L143.10,413.07 L144.10,413.37 L145.10,413.68 L146.10,414.01 L147.10,414.36 L148.10,414.72 L149.10,415.09 L150.10,415.49 L151.10,415.89 L152.10,416.31 L153.10,416.75 L154.10,417.20 L155.10,417.66 L156.10,418.14 L157.10,418.63 L158.10,419.13 L159.10,419.65 L160.10,420.18 L161.10,420.73 L162.10,421.29 L163.10,421.86 L164.10,422.44 L165.10,423.03 L166.10,423.64 L167.10,424.26 L168.10,424.89 L169.10,425.53 L170.10,426.19 L171.10,426.85 L172.10,427.53 L173.10,428.21 L174.10,428.91 L175.10,429.62 L176.10,430.34 L177.10,431.06 L178.10,431.80 L179.10,432.55 L180.10,433.31 L181.10,434.07 L182.10,434.85 L183.10,435.63 L184.10,436.42 L185.10,437.23 L186.10,438.04 L187.10,438.85 L188.10,439.68 L189.10,440.51 L190.00,441.27" stroke="#EA746F" stroke-width="1.80" fill="none" stroke-linejoin="round" stroke-linecap="butt"/>
<path d="M39.10,452.02 L40.10,452.22 L41.10,452.39 L42.10,452.55 L43.10,452.68 L44.10,452.79 L45.10,452.88 L46.10,452.94 L47.10,452.99 L48.10,453.02 L49.10,453.03 L50.10,453.01 L51.10,452.98 L52.10,452.94 L53.10,452.87 L54.10,452.79 L55.10,452.68 L56.10,452.57 L57.10,452.43 L58.10,452.28 L59.10,452.11 L60.10,451.93 L61.10,451.74 L62.10,451.53 L63.10,451.30 L64.10,451.06 L65.10,450.81 L66.10,450.55 L67.10,450.27 L68.10,449.98 L69.10,449.68 L70.10,449.37 L71.10,449.05 L72.10,448.71 L73.10,448.37 L74.10,448.02 L75.10,447.66 L76.10,447.29 L77.10,446.91 L78.10,446.52 L79.10,446.12 L80.10,445.72 L81.10,445.31 L82.10,444.90 L83.10,444.47 L84.10,444.05 L85.10,443.61 L86.10,443.17 L87.10,442.73 L88.10,442.28 L89.10,441.83 L90.10,441.38 L91.10,440.92 L92.10,440.46 L93.10,440.00 L94.10,439.54 L95.10,439.08 L96.10,438.61 L97.10,438.14 L98.10,437.68 L99.10,437.21 L100.10,436.75 L101.10,436.28 L102.10,435.82 L103.10,435.36 L104.10,434.90 L105.10,434.44 L106.10,433.99 L107.10,433.54 L108.10,433.09 L109.10,432.65 L110.10,432.21 L111.10,431.78 L112.10,431.35 L113.10,430.93 L114.10,430.52 L115.10,430.11 L116.10,429.71 L117.10,429.31 L118.10,428.93 L119.10,428.55 L120.10,428.18 L121.10,427.82 L122.10,427.46 L123.10,427.12 L124.10,426.79 L125.10,426.47 L126.10,426.16 L127.10,425.86 L128.10,425.57 L129.10,425.30 L130.10,425.03 L131.10,424.78 L132.10,424.55 L133.10,424.32 L134.10,424.11 L135.10,423.92 L136.10,423.74 L137.10,423.58 L138.10,423.43 L139.10,423.29 L140.10,423.18 L141.10,423.08 L142.10,422.99 L143.10,422.92 L144.10,422.87 L145.10,422.83 L146.10,422.81 L147.10,422.81 L148.10,422.83 L149.10,422.86 L150.10,422.91 L151.10,422.98 L152.10,423.06 L153.10,423.17 L154.10,423.29 L155.10,423.43 L156.10,423.59 L157.10,423.77 L158.10,423.96 L159.10,424.18 L160.10,424.41 L161.10,424.67 L162.10,424.94 L163.10,425.23 L164.10,425.55 L165.10,425.88 L166.10,426.23 L167.10,426.61 L168.10,427.00 L169.10,427.42 L170.10,427.85 L171.10,428.31 L172.10,428.79 L173.10,429.29 L174.10,429.81 L175.10,430.36 L176.10,430.92 L177.10,431.51 L178.10,432.12 L179.10,432.74 L180.10,433.39 L181.10,434.06 L182.10,434.74 L183.10,435.44 L184.10,436.15 L185.10,436.55" stroke="#5AA7DE" stroke-width="1.80" fill="none" stroke-linejoin="round" stroke-linecap="butt"/>
<path d="M39.10,381.09 L40.10,381.36 L41.10,381.61 L42.10,381.85 L43.10,382.09 L44.10,382.31 L45.10,382.53 L46.10,382.74 L47.10,382.93 L48.10,383.12 L49.10,383.30 L50.10,383.48 L51.10,383.64 L52.10,383.80 L53.10,383.95 L54.10,384.10 L55.10,384.23 L56.10,384.37 L57.10,384.49 L58.10,384.62 L59.10,384.73 L60.10,384.84 L61.10,384.95 L62.10,385.05 L63.10,385.15 L64.10,385.25 L65.10,385.34 L66.10,385.43 L67.10,385.52 L68.10,385.61 L69.10,385.69 L70.10,385.77 L71.10,385.85 L72.10,385.93 L73.10,386.01 L74.10,386.09 L75.10,386.16 L76.10,386.24 L77.10,386.32 L78.10,386.40 L79.10,386.48 L80.10,386.56 L81.10,386.65 L82.10,386.73 L83.10,386.82 L84.10,386.91 L85.10,387.01 L86.10,387.10 L87.10,387.20 L88.10,387.31 L89.10,387.42 L90.10,387.53 L91.10,387.65 L92.10,387.77 L93.10,387.90 L94.10,388.04 L95.10,388.18 L96.10,388.33 L97.10,388.48 L98.10,388.64 L99.10,388.81 L100.10,388.99 L101.10,389.17 L102.10,389.36 L103.10,389.57 L104.10,389.78 L105.10,389.99 L106.10,390.22 L107.10,390.46 L108.10,390.71 L109.10,390.97 L110.10,391.24 L111.10,391.52 L112.10,391.81 L113.10,392.11 L114.10,392.43 L115.10,392.76 L116.10,393.10 L117.10,393.45 L118.10,393.81 L119.10,394.19 L120.10,394.58 L121.10,394.98 L122.10,395.39 L123.10,395.81 L124.10,396.24 L125.10,396.68 L126.10,397.14 L127.10,397.60 L128.10,398.07 L129.10,398.56 L130.10,399.05 L131.10,399.56 L132.10,400.07 L133.10,400.60 L134.10,401.13 L135.10,401.67 L136.10,402.22 L137.10,402.78 L138.10,403.35 L139.10,403.93 L140.10,404.52 L141.10,405.11 L142.10,405.72 L143.10,406.33 L144.10,406.95 L145.10,407.57 L146.10,408.21 L147.10,408.85 L148.10,409.50 L149.10,410.16 L150.10,410.82 L151.10,411.49 L152.10,412.17 L153.10,412.85 L154.10,413.54 L155.10,414.24 L156.10,414.94 L157.10,415.65 L158.10,416.36 L159.10,417.08 L160.10,417.81 L161.10,418.54 L162.10,419.27 L163.10,420.01 L164.10,420.76 L165.10,421.51 L166.10,422.26 L167.10,423.02 L168.10,423.78 L169.10,424.55 L170.10,425.32 L171.10,426.10 L172.10,426.88 L173.10,427.66 L174.10,428.44 L175.10,429.23 L176.10,430.02 L177.10,430.82 L178.10,431.62 L179.10,432.42 L180.10,433.22 L181.10,434.02 L182.10,434.83 L183.10,435.64 L184.10,436.45 L185.10,437.26 L186.10,438.07 L187.10,438.89 L188.10,439.71 L189.10,440.52 L190.00,441.26" stroke="#8881C6" stroke-width="1.80" fill="none" stroke-linejoin="round" stroke-linecap="butt"/>
<path d="M39.10,338.16 L40.10,338.57 L41.10,338.99 L42.10,339.41 L43.10,339.85 L44.10,340.28 L45.10,340.73 L46.10,341.18 L47.10,341.63 L48.10,342.10 L49.10,342.56 L50.10,343.04 L51.10,343.52 L52.10,344.00 L53.10,344.49 L54.10,344.99 L55.10,345.49 L56.10,346.00 L57.10,346.51 L58.10,347.03 L59.10,347.55 L60.10,348.08 L61.10,348.62 L62.10,349.15 L63.10,349.70 L64.10,350.25 L65.10,350.80 L66.10,351.36 L67.10,351.92 L68.10,352.49 L69.10,353.06 L70.10,353.64 L71.10,354.22 L72.10,354.81 L73.10,355.40 L74.10,355.99 L75.10,356.59 L76.10,357.20 L77.10,357.80 L78.10,358.42 L79.10,359.03 L80.10,359.65 L81.10,360.28 L82.10,360.90 L83.10,361.53 L84.10,362.17 L85.10,362.81 L86.10,363.45 L87.10,364.10 L88.10,364.75 L89.10,365.40 L90.10,366.05 L91.10,366.71 L92.10,367.38 L93.10,368.04 L94.10,368.71 L95.10,369.38 L96.10,370.06 L97.10,370.74 L98.10,371.42 L99.10,372.10 L100.10,372.79 L101.10,373.48 L102.10,374.17 L103.10,374.87 L104.10,375.56 L105.10,376.26 L106.10,376.96 L107.10,377.67 L108.10,378.37 L109.10,379.08 L110.10,379.79 L111.10,380.51 L112.10,381.22 L113.10,381.94 L114.10,382.66 L115.10,383.38 L116.10,384.10 L117.10,384.83 L118.10,385.55 L119.10,386.28 L120.10,387.01 L121.10,387.74 L122.10,388.47 L123.10,389.20 L124.10,389.94 L125.10,390.68 L126.10,391.41 L127.10,392.15 L128.10,392.89 L129.10,393.63 L130.10,394.37 L131.10,395.12 L132.10,395.86 L133.10,396.60 L134.10,397.35 L135.10,398.10 L136.10,398.85 L137.10,399.60 L138.10,400.35 L139.10,401.10 L140.10,401.85 L141.10,402.60 L142.10,403.36 L143.10,404.11 L144.10,404.87 L145.10,405.63 L146.10,406.38 L147.10,407.14 L148.10,407.90 L149.10,408.66 L150.10,409.43 L151.10,410.19 L152.10,410.95 L153.10,411.72 L154.10,412.48 L155.10,413.25 L156.10,414.01 L157.10,414.78 L158.10,415.55 L159.10,416.32 L160.10,417.09 L161.10,417.86 L162.10,418.63 L163.10,419.40 L164.10,420.18 L165.10,420.95 L166.10,421.72 L167.10,422.50 L168.10,423.27 L169.10,424.05 L170.10,424.83 L171.10,425.61 L172.10,426.38 L173.10,427.16 L174.10,427.94 L175.10,428.72 L176.10,429.50 L177.10,430.28 L178.10,431.06 L179.10,431.84 L180.10,432.63 L181.10,433.41 L182.10,434.19 L183.10,434.98 L184.10,435.76 L185.10,436.55 L186.10,437.33 L187.10,438.12 L188.10,438.90 L189.10,439.69 L190.10,440.48 L191.10,441.26 L192.10,442.05 L193.10,442.84 L194.10,443.63 L195.10,444.41 L196.10,445.20 L197.10,445.99 L198.10,446.78 L199.10,447.57 L200.10,448.36 L201.10,449.15 L202.10,449.94 L203.10,450.73 L204.10,451.52 L205.10,452.31 L206.10,453.10 L207.10,453.89 L208.10,454.69 L209.10,455.48 L210.10,456.27 L211.10,457.06 L212.10,457.85 L213.10,458.64 L214.10,459.44 L215.10,460.23 L216.10,461.02 L217.10,461.81 L218.10,462.60 L219.10,463.40 L220.10,464.19 L221.10,464.98 L222.10,465.77 L223.10,466.56 L224.10,467.35 L225.10,468.15 L226.10,468.94 L227.10,469.73 L228.10,470.52 L229.10,471.31 L230.10,472.10 L231.10,472.90 L232.10,473.69 L233.10,474.48 L234.10,475.27 L235.10,476.06 L236.10,476.85 L237.10,477.64 L238.10,478.43 L239.10,479.22 L240.10,480.01 L241.10,480.80 L242.10,481.58 L243.10,482.37 L244.10,483.16 L245.10,483.95 L246.10,484.74 L247.10,485.52 L248.10,486.31 L249.10,487.10 L250.10,487.88 L251.10,488.67 L252.10,489.45 L253.10,490.24 L254.10,491.02 L255.10,491.81 L256.10,492.59 L257.10,493.37 L258.10,494.15 L259.10,494.94 L260.10,495.72 L261.10,496.50 L262.10,497.28 L263.10,498.06 L264.10,498.84 L265.10,499.62 L266.10,500.40 L267.10,501.17 L268.10,501.95 L269.10,502.73 L270.10,503.50 L271.10,504.28 L272.10,505.05 L273.10,505.82 L274.10,506.60 L275.10,507.37 L276.10,508.14 L277.10,508.91 L278.10,509.68 L279.10,510.45 L280.10,511.22 L281.10,511.99 L282.10,512.75 L283.10,513.52 L284.10,514.29 L285.10,515.05 L286.10,515.81 L287.10,516.58 L288.10,517.34 L289.10,518.10 L290.10,518.86 L291.10,519.62 L292.10,520.38 L293.10,521.13 L294.10,521.89 L295.10,522.65 L296.10,523.40 L297.10,524.15 L298.10,524.91 L299.10,525.66 L300.10,526.41 L301.10,527.16 L301.30,527.31" stroke="#66BC89" stroke-width="1.80" fill="none" stroke-linejoin="round" stroke-linecap="butt"/>
<path d="M39.00,527.40V524.70M39.00,330.90V333.60M87.57,527.40V524.70M87.57,330.90V333.60M136.14,527.40V524.70M136.14,330.90V333.60M184.71,527.40V524.70M184.71,330.90V333.60M233.29,527.40V524.70M233.29,330.90V333.60M281.86,527.40V524.70M281.86,330.90V333.60M39.00,527.40H41.70M311.00,527.40H308.30M39.00,489.64H41.70M311.00,489.64H308.30M39.00,451.88H41.70M311.00,451.88H308.30M39.00,414.12H41.70M311.00,414.12H308.30M39.00,376.36H41.70M311.00,376.36H308.30M39.00,338.60H41.70M311.00,338.60H308.30" stroke="#6e6e6e" stroke-width="1.25" fill="none"/>
<rect x="39.00" y="330.90" width="272.00" height="196.50" fill="none" stroke="#6e6e6e" stroke-width="1.25"/>
<text x="39.25" y="545.20" font-size="14.20" text-anchor="middle" >0</text>
<text x="87.82" y="545.20" font-size="14.20" text-anchor="middle" >10</text>
<text x="136.39" y="545.20" font-size="14.20" text-anchor="middle" >20</text>
<text x="184.96" y="545.20" font-size="14.20" text-anchor="middle" >30</text>
<text x="233.54" y="545.20" font-size="14.20" text-anchor="middle" >40</text>
<text x="282.11" y="545.20" font-size="14.20" text-anchor="middle" >50</text>
<text x="34.50" y="532.90" font-size="14.20" text-anchor="end" >0</text>
<text x="34.50" y="495.14" font-size="14.20" text-anchor="end" >10</text>
<text x="34.50" y="457.38" font-size="14.20" text-anchor="end" >20</text>
<text x="34.50" y="419.62" font-size="14.20" text-anchor="end" >30</text>
<text x="34.50" y="381.86" font-size="14.20" text-anchor="end" >40</text>
<text x="34.50" y="344.10" font-size="14.20" text-anchor="end" >50</text>
<text x="175.00" y="561.50" font-size="17.00" text-anchor="middle"><tspan font-style="italic">t</tspan> (s)</text>
<text transform="translate(12.90,429.15) rotate(-90)" font-size="17.00" text-anchor="middle" textLength="47.2" lengthAdjust="spacingAndGlyphs"><tspan font-style="italic">t</tspan><tspan font-style="italic" font-size="11" dy="3.2">go,i</tspan><tspan dy="-3.2"> </tspan>(s)</text>
<text x="98.00" y="583.00" font-size="18.00" textLength="21.90" lengthAdjust="spacingAndGlyphs" fill="#222">(c)</text>
<text x="128.50" y="583.00" font-size="18.00" textLength="100.20" lengthAdjust="spacingAndGlyphs" fill="#222">Times-to-go</text>
<rect x="233.20" y="370.40" width="64.20" height="42.80" fill="#fff"/>
<path d="M244.70,370.40V413.20M255.50,370.40V413.20M266.30,370.40V413.20M276.80,370.40V413.20M287.60,370.40V413.20M233.20,386.70H297.40M233.20,402.30H297.40" stroke="#e6e6e6" stroke-width="1.20" fill="none"/>
<path d="M233.4,393.30L293.6,411.50" stroke="#66BC89" stroke-width="1.8"/>
<path d="M233.4,376.60L293.6,394.20" stroke="#EA746F" stroke-width="1.8"/>
<path d="M233.4,375.50L293.6,393.50" stroke="#8881C6" stroke-width="1.8"/>
<path d="M233.4,372.30L293.6,390.30" stroke="#5AA7DE" stroke-width="1.8"/>
<path d="M244.70,413.20V411.00M244.70,370.40V372.60M255.50,413.20V411.00M255.50,370.40V372.60M266.30,413.20V411.00M266.30,370.40V372.60M276.80,413.20V411.00M276.80,370.40V372.60M287.60,413.20V411.00M287.60,370.40V372.60M233.20,372.50H235.40M297.40,372.50H295.20M233.20,387.50H235.40M297.40,387.50H295.20M233.20,402.50H235.40M297.40,402.50H295.20" stroke="#555" stroke-width="1.35" fill="none"/>
<rect x="233.20" y="370.40" width="64.20" height="42.80" fill="none" stroke="#555" stroke-width="1.35"/>
<text x="229.20" y="377.20" font-size="14.20" text-anchor="end" >5.41890429</text>
<text x="229.20" y="392.20" font-size="14.20" text-anchor="end" >5.41890428</text>
<text x="229.20" y="407.20" font-size="14.20" text-anchor="end" >5.41890427</text>
<text x="235.00" y="367.30" font-size="14.20" text-anchor="start" >×10</text>
<text x="257.80" y="362.10" font-size="10.50" text-anchor="start" >-3</text>
<text x="244.70" y="430.50" font-size="14.20" text-anchor="middle" >54.03</text>
<path d="M301.2,521.4L272.6,426" stroke="#1a1a1a" stroke-width="1"/>
<path d="M270.2,420.1L275.5,426.5L272.6,425.6L269.2,428.6Z" fill="#1a1a1a"/>
<path d="M451.83,330.90V527.80M499.26,330.90V527.80M546.69,330.90V527.80M594.11,330.90V527.80M641.54,330.90V527.80M404.40,513.27H670.00M404.40,484.51H670.00M404.40,455.74H670.00M404.40,426.98H670.00M404.40,398.21H670.00M404.40,369.45H670.00M404.40,340.68H670.00" stroke="#e6e6e6" stroke-width="1.20" fill="none"/>
<path d="M404.80,440.99 L405.80,437.10 L406.80,433.33 L407.80,429.67 L408.80,426.12 L409.80,422.67 L410.80,419.34 L411.80,416.11 L412.80,412.99 L413.80,409.97 L414.80,407.05 L415.80,404.24 L416.80,401.52 L417.80,398.89 L418.80,396.36 L419.80,393.93 L420.80,391.59 L421.80,389.34 L422.80,387.17 L423.80,385.10 L424.80,383.11 L425.80,381.20 L426.80,379.38 L427.80,377.63 L428.80,375.97 L429.80,374.38 L430.80,372.87 L431.80,371.44 L432.80,370.08 L433.80,368.78 L434.80,367.56 L435.80,366.41 L436.80,365.33 L437.80,364.30 L438.80,363.35 L439.80,362.45 L440.80,361.62 L441.80,360.84 L442.80,360.12 L443.80,359.46 L444.80,358.85 L445.80,358.29 L446.80,357.78 L447.80,357.32 L448.80,356.91 L449.80,356.55 L450.80,356.23 L451.80,355.96 L452.80,355.72 L453.80,355.53 L454.80,355.37 L455.80,355.25 L456.80,355.16 L457.80,355.11 L458.80,355.09 L459.80,355.11 L460.80,355.15 L461.80,355.24 L462.80,355.36 L463.80,355.52 L464.80,355.71 L465.80,355.95 L466.80,356.22 L467.80,356.54 L468.80,356.89 L469.80,357.30 L470.80,357.74 L471.80,358.23 L472.80,358.76 L473.80,359.34 L474.80,359.97 L475.80,360.65 L476.80,361.37 L477.80,362.15 L478.80,362.98 L479.80,363.86 L480.80,364.79 L481.80,365.78 L482.80,366.82 L483.80,367.91 L484.80,369.07 L485.80,370.28 L486.80,371.55 L487.80,372.88 L488.80,374.27 L489.80,375.72 L490.80,377.23 L491.80,378.81 L492.80,380.45 L493.80,382.16 L494.80,383.93 L495.80,385.77 L496.80,387.67 L497.80,389.64 L498.80,391.66 L499.80,393.75 L500.80,395.89 L501.80,398.09 L502.80,400.34 L503.80,402.65 L504.80,405.00 L505.80,407.40 L506.80,409.85 L507.80,412.34 L508.80,414.87 L509.80,417.44 L510.80,420.05 L511.80,422.70 L512.80,425.38 L513.80,428.09 L514.80,430.84 L515.80,433.60 L516.80,436.38 L517.80,439.17 L518.80,441.94 L519.80,444.71 L520.80,447.46 L521.80,450.17 L522.80,452.85 L523.80,455.47 L524.80,458.05 L525.80,460.58 L526.80,463.05 L527.80,465.46 L528.80,467.80 L529.80,470.08 L530.80,472.28 L531.80,474.41 L532.80,476.47 L533.80,478.44 L534.80,480.33 L535.80,482.12 L536.80,483.83 L537.80,485.46 L538.80,487.00 L539.80,488.46 L540.80,489.84 L541.80,491.15 L542.80,492.38 L543.80,493.55 L544.80,494.65 L545.80,495.69 L546.80,496.67 L547.80,497.59 L548.80,498.46 L549.80,499.27 L550.80,500.04 L551.80,500.77 L552.80,501.45 L553.80,502.09 L554.80,502.69 L555.80,503.26 L556.80,503.81 L557.80,504.32 L558.80,504.81 L559.80,505.28 L560.80,505.72 L561.80,506.15 L562.80,506.57 L563.80,506.96 L564.80,507.34 L565.80,507.70 L566.80,508.05 L567.80,508.38 L568.80,508.69 L569.80,508.99 L570.80,509.28 L571.80,509.55 L572.80,509.80 L573.80,510.05 L574.80,510.28 L575.80,510.49 L576.80,510.70 L577.80,510.89 L578.80,511.08 L579.80,511.25 L580.80,511.41 L581.80,511.56 L582.80,511.70 L583.80,511.83 L584.80,511.95 L585.80,512.06 L586.80,512.17 L587.80,512.26 L588.80,512.35 L589.80,512.43 L590.80,512.51 L591.80,512.58 L592.80,512.64 L593.80,512.70 L594.80,512.75 L595.80,512.79 L596.80,512.84 L597.80,512.88 L598.80,512.91 L599.80,512.94 L600.80,512.97 L601.80,513.00 L602.80,513.02 L603.80,513.04 L604.80,513.06 L605.80,513.08 L606.80,513.10 L607.80,513.12 L608.80,513.14 L609.80,513.16 L610.80,513.18 L611.80,513.20 L612.80,513.22 L613.80,513.24 L614.80,513.26 L615.80,513.27 L616.80,513.29 L617.80,513.31 L618.80,513.33 L619.80,513.35 L620.80,513.36 L621.80,513.38 L622.80,513.40 L623.80,513.41 L624.80,513.43 L625.80,513.45 L626.80,513.46 L627.80,513.48 L628.80,513.49 L629.80,513.51 L630.80,513.52 L631.80,513.53 L632.80,513.55 L633.80,513.56 L634.80,513.57 L635.80,513.58 L636.80,513.60 L637.80,513.61 L638.80,513.62 L639.80,513.63 L640.80,513.64 L641.80,513.65 L642.80,513.66 L643.80,513.66 L644.80,513.67 L645.80,513.68 L646.80,513.68 L647.80,513.69 L648.80,513.69 L649.80,513.70 L650.80,513.70 L651.80,513.71 L652.80,513.71 L653.80,513.71 L654.80,513.71 L655.80,513.71 L656.80,513.71 L657.80,513.71 L658.80,513.71 L659.80,513.70 L660.80,513.70 L661.40,513.70" stroke="#EA746F" stroke-width="1.80" fill="none" stroke-linejoin="round" stroke-linecap="butt"/>
<path d="M404.80,426.52 L405.80,420.13 L406.80,414.19 L407.80,408.70 L408.80,403.62 L409.80,398.93 L410.80,394.60 L411.80,390.60 L412.80,386.90 L413.80,383.48 L414.80,380.31 L415.80,377.37 L416.80,374.63 L417.80,372.05 L418.80,369.62 L419.80,367.31 L420.80,365.10 L421.80,362.99 L422.80,360.98 L423.80,359.07 L424.80,357.26 L425.80,355.54 L426.80,353.90 L427.80,352.36 L428.80,350.90 L429.80,349.53 L430.80,348.23 L431.80,347.02 L432.80,345.88 L433.80,344.81 L434.80,343.82 L435.80,342.90 L436.80,342.04 L437.80,341.25 L438.80,340.52 L439.80,339.85 L440.80,339.23 L441.80,338.68 L442.80,338.17 L443.80,337.72 L444.80,337.31 L445.80,336.95 L446.80,336.63 L447.80,336.36 L448.80,336.12 L449.80,335.92 L450.80,335.76 L451.80,335.62 L452.80,335.52 L453.80,335.44 L454.80,335.39 L455.80,335.36 L456.80,335.35 L457.80,335.35 L458.80,335.38 L459.80,335.42 L460.80,335.48 L461.80,335.56 L462.80,335.65 L463.80,335.77 L464.80,335.91 L465.80,336.07 L466.80,336.26 L467.80,336.47 L468.80,336.70 L469.80,336.96 L470.80,337.25 L471.80,337.56 L472.80,337.90 L473.80,338.28 L474.80,338.68 L475.80,339.11 L476.80,339.57 L477.80,340.07 L478.80,340.59 L479.80,341.16 L480.80,341.76 L481.80,342.39 L482.80,343.06 L483.80,343.77 L484.80,344.51 L485.80,345.30 L486.80,346.13 L487.80,346.99 L488.80,347.90 L489.80,348.85 L490.80,349.85 L491.80,350.88 L492.80,351.97 L493.80,353.10 L494.80,354.28 L495.80,355.50 L496.80,356.77 L497.80,358.09 L498.80,359.47 L499.80,360.89 L500.80,362.37 L501.80,363.89 L502.80,365.48 L503.80,367.11 L504.80,368.80 L505.80,370.55 L506.80,372.36 L507.80,374.22 L508.80,376.14 L509.80,378.12 L510.80,380.16 L511.80,382.27 L512.80,384.43 L513.80,386.66 L514.80,388.95 L515.80,391.30 L516.80,393.73 L517.80,396.22 L518.80,398.78 L519.80,401.41 L520.80,404.12 L521.80,406.91 L522.80,409.77 L523.80,412.72 L524.80,415.74 L525.80,418.86 L526.80,422.06 L527.80,425.35 L528.80,428.73 L529.80,432.16 L530.80,435.64 L531.80,439.13 L532.80,442.62 L533.80,446.08 L534.80,449.49 L535.80,452.82 L536.80,456.06 L537.80,459.18 L538.80,462.17 L539.80,465.02 L540.80,467.75 L541.80,470.34 L542.80,472.81 L543.80,475.17 L544.80,477.41 L545.80,479.54 L546.80,481.56 L547.80,483.48 L548.80,485.30 L549.80,487.02 L550.80,488.65 L551.80,490.19 L552.80,491.65 L553.80,493.03 L554.80,494.33 L555.80,495.56 L556.80,496.72 L557.80,497.81 L558.80,498.85 L559.80,499.83 L560.80,500.75 L561.80,501.62 L562.80,502.45 L563.80,503.24 L564.80,503.99 L565.80,504.69 L566.80,505.37 L567.80,506.00 L568.80,506.60 L569.80,507.17 L570.80,507.70 L571.80,508.20 L572.80,508.67 L573.80,509.11 L574.80,509.52 L575.80,509.90 L576.80,510.25 L577.80,510.58 L578.80,510.88 L579.80,511.16 L580.80,511.42 L581.80,511.65 L582.80,511.86 L583.80,512.05 L584.80,512.22 L585.80,512.37 L586.80,512.50 L587.80,512.62 L588.80,512.72 L589.80,512.81 L590.80,512.89 L591.80,512.95 L592.80,513.00 L593.80,513.04 L594.80,513.07 L595.80,513.09 L596.80,513.10 L597.80,513.11 L598.80,513.11 L599.80,513.10 L600.80,513.10 L601.80,513.09 L602.80,513.07 L603.80,513.06 L604.80,513.05 L605.80,513.04 L606.80,513.03 L607.80,513.02 L608.80,513.02 L609.80,513.02 L610.80,513.02 L611.80,513.03 L612.80,513.04 L613.80,513.05 L614.80,513.06 L615.80,513.08 L616.80,513.09 L617.80,513.11 L618.80,513.14 L619.80,513.16 L620.80,513.18 L621.80,513.21 L622.80,513.24 L623.80,513.26 L624.80,513.29 L625.80,513.32 L626.80,513.35 L627.80,513.38 L628.80,513.42 L629.80,513.45 L630.80,513.48 L631.80,513.51 L632.80,513.54 L633.80,513.57 L634.80,513.60 L635.80,513.63 L636.80,513.66 L637.80,513.69 L638.80,513.71 L639.80,513.74 L640.80,513.76 L641.80,513.78 L642.80,513.80 L643.80,513.82 L644.80,513.84 L645.80,513.85 L646.80,513.87 L647.80,513.87 L648.80,513.88 L649.80,513.89 L650.80,513.89 L651.80,513.88 L652.80,513.88 L653.80,513.87 L654.80,513.86 L655.80,513.84 L656.80,513.83 L657.80,513.80 L658.80,513.77 L659.80,513.74 L660.80,513.71 L661.40,513.68" stroke="#5AA7DE" stroke-width="1.80" fill="none" stroke-linejoin="round" stroke-linecap="butt"/>
<path d="M404.80,419.08 L405.80,417.47 L406.80,415.90 L407.80,414.38 L408.80,412.91 L409.80,411.48 L410.80,410.09 L411.80,408.75 L412.80,407.45 L413.80,406.20 L414.80,404.99 L415.80,403.83 L416.80,402.71 L417.80,401.64 L418.80,400.61 L419.80,399.63 L420.80,398.69 L421.80,397.80 L422.80,396.95 L423.80,396.15 L424.80,395.39 L425.80,394.67 L426.80,394.00 L427.80,393.38 L428.80,392.79 L429.80,392.26 L430.80,391.77 L431.80,391.32 L432.80,390.92 L433.80,390.56 L434.80,390.25 L435.80,389.98 L436.80,389.76 L437.80,389.58 L438.80,389.45 L439.80,389.36 L440.80,389.31 L441.80,389.31 L442.80,389.36 L443.80,389.45 L444.80,389.58 L445.80,389.76 L446.80,389.98 L447.80,390.25 L448.80,390.57 L449.80,390.92 L450.80,391.33 L451.80,391.77 L452.80,392.27 L453.80,392.80 L454.80,393.38 L455.80,394.01 L456.80,394.68 L457.80,395.40 L458.80,396.16 L459.80,396.96 L460.80,397.81 L461.80,398.70 L462.80,399.64 L463.80,400.62 L464.80,401.65 L465.80,402.71 L466.80,403.81 L467.80,404.96 L468.80,406.14 L469.80,407.35 L470.80,408.60 L471.80,409.88 L472.80,411.20 L473.80,412.54 L474.80,413.92 L475.80,415.32 L476.80,416.76 L477.80,418.21 L478.80,419.70 L479.80,421.20 L480.80,422.73 L481.80,424.28 L482.80,425.85 L483.80,427.44 L484.80,429.04 L485.80,430.67 L486.80,432.30 L487.80,433.95 L488.80,435.62 L489.80,437.29 L490.80,438.98 L491.80,440.67 L492.80,442.36 L493.80,444.06 L494.80,445.76 L495.80,447.46 L496.80,449.16 L497.80,450.85 L498.80,452.53 L499.80,454.20 L500.80,455.86 L501.80,457.51 L502.80,459.14 L503.80,460.76 L504.80,462.35 L505.80,463.92 L506.80,465.47 L507.80,466.99 L508.80,468.49 L509.80,469.95 L510.80,471.38 L511.80,472.78 L512.80,474.14 L513.80,475.47 L514.80,476.77 L515.80,478.03 L516.80,479.26 L517.80,480.46 L518.80,481.63 L519.80,482.76 L520.80,483.87 L521.80,484.95 L522.80,485.99 L523.80,487.01 L524.80,488.00 L525.80,488.95 L526.80,489.89 L527.80,490.79 L528.80,491.67 L529.80,492.52 L530.80,493.34 L531.80,494.14 L532.80,494.92 L533.80,495.67 L534.80,496.39 L535.80,497.09 L536.80,497.77 L537.80,498.43 L538.80,499.06 L539.80,499.67 L540.80,500.26 L541.80,500.83 L542.80,501.38 L543.80,501.91 L544.80,502.42 L545.80,502.91 L546.80,503.38 L547.80,503.83 L548.80,504.27 L549.80,504.69 L550.80,505.09 L551.80,505.47 L552.80,505.84 L553.80,506.19 L554.80,506.53 L555.80,506.86 L556.80,507.16 L557.80,507.46 L558.80,507.74 L559.80,508.01 L560.80,508.27 L561.80,508.52 L562.80,508.75 L563.80,508.98 L564.80,509.19 L565.80,509.39 L566.80,509.59 L567.80,509.77 L568.80,509.95 L569.80,510.12 L570.80,510.28 L571.80,510.43 L572.80,510.58 L573.80,510.72 L574.80,510.85 L575.80,510.98 L576.80,511.10 L577.80,511.22 L578.80,511.34 L579.80,511.45 L580.80,511.56 L581.80,511.66 L582.80,511.76 L583.80,511.86 L584.80,511.95 L585.80,512.04 L586.80,512.12 L587.80,512.20 L588.80,512.28 L589.80,512.36 L590.80,512.43 L591.80,512.49 L592.80,512.56 L593.80,512.62 L594.80,512.68 L595.80,512.74 L596.80,512.79 L597.80,512.84 L598.80,512.89 L599.80,512.93 L600.80,512.98 L601.80,513.02 L602.80,513.05 L603.80,513.09 L604.80,513.12 L605.80,513.15 L606.80,513.18 L607.80,513.21 L608.80,513.23 L609.80,513.26 L610.80,513.28 L611.80,513.30 L612.80,513.32 L613.80,513.33 L614.80,513.35 L615.80,513.36 L616.80,513.37 L617.80,513.38 L618.80,513.39 L619.80,513.40 L620.80,513.41 L621.80,513.42 L622.80,513.42 L623.80,513.43 L624.80,513.43 L625.80,513.44 L626.80,513.44 L627.80,513.44 L628.80,513.44 L629.80,513.44 L630.80,513.45 L631.80,513.45 L632.80,513.45 L633.80,513.45 L634.80,513.45 L635.80,513.45 L636.80,513.45 L637.80,513.45 L638.80,513.45 L639.80,513.46 L640.80,513.46 L641.80,513.46 L642.80,513.47 L643.80,513.47 L644.80,513.47 L645.80,513.48 L646.80,513.49 L647.80,513.49 L648.80,513.50 L649.80,513.51 L650.80,513.52 L651.80,513.54 L652.80,513.55 L653.80,513.56 L654.80,513.58 L655.80,513.60 L656.80,513.62 L657.80,513.64 L658.80,513.66 L659.80,513.69 L660.80,513.71 L661.40,513.73" stroke="#8881C6" stroke-width="1.80" fill="none" stroke-linejoin="round" stroke-linecap="butt"/>
<path d="M404.80,412.80 L405.80,414.33 L406.80,415.85 L407.80,417.35 L408.80,418.84 L409.80,420.32 L410.80,421.78 L411.80,423.22 L412.80,424.65 L413.80,426.07 L414.80,427.47 L415.80,428.86 L416.80,430.23 L417.80,431.58 L418.80,432.93 L419.80,434.26 L420.80,435.57 L421.80,436.87 L422.80,438.16 L423.80,439.43 L424.80,440.68 L425.80,441.93 L426.80,443.15 L427.80,444.37 L428.80,445.57 L429.80,446.75 L430.80,447.93 L431.80,449.08 L432.80,450.23 L433.80,451.36 L434.80,452.47 L435.80,453.58 L436.80,454.67 L437.80,455.74 L438.80,456.80 L439.80,457.85 L440.80,458.88 L441.80,459.90 L442.80,460.91 L443.80,461.90 L444.80,462.88 L445.80,463.84 L446.80,464.80 L447.80,465.74 L448.80,466.66 L449.80,467.57 L450.80,468.47 L451.80,469.36 L452.80,470.23 L453.80,471.09 L454.80,471.93 L455.80,472.76 L456.80,473.58 L457.80,474.39 L458.80,475.19 L459.80,475.97 L460.80,476.74 L461.80,477.50 L462.80,478.24 L463.80,478.98 L464.80,479.70 L465.80,480.41 L466.80,481.11 L467.80,481.80 L468.80,482.47 L469.80,483.14 L470.80,483.79 L471.80,484.43 L472.80,485.06 L473.80,485.69 L474.80,486.30 L475.80,486.90 L476.80,487.49 L477.80,488.07 L478.80,488.64 L479.80,489.20 L480.80,489.75 L481.80,490.29 L482.80,490.82 L483.80,491.34 L484.80,491.85 L485.80,492.35 L486.80,492.85 L487.80,493.33 L488.80,493.81 L489.80,494.27 L490.80,494.73 L491.80,495.18 L492.80,495.62 L493.80,496.05 L494.80,496.48 L495.80,496.90 L496.80,497.31 L497.80,497.71 L498.80,498.10 L499.80,498.49 L500.80,498.87 L501.80,499.24 L502.80,499.60 L503.80,499.96 L504.80,500.31 L505.80,500.65 L506.80,500.99 L507.80,501.32 L508.80,501.64 L509.80,501.96 L510.80,502.27 L511.80,502.58 L512.80,502.88 L513.80,503.17 L514.80,503.46 L515.80,503.74 L516.80,504.02 L517.80,504.29 L518.80,504.56 L519.80,504.82 L520.80,505.08 L521.80,505.33 L522.80,505.58 L523.80,505.82 L524.80,506.05 L525.80,506.29 L526.80,506.51 L527.80,506.73 L528.80,506.95 L529.80,507.16 L530.80,507.37 L531.80,507.57 L532.80,507.77 L533.80,507.97 L534.80,508.16 L535.80,508.34 L536.80,508.52 L537.80,508.70 L538.80,508.87 L539.80,509.04 L540.80,509.20 L541.80,509.36 L542.80,509.52 L543.80,509.67 L544.80,509.82 L545.80,509.96 L546.80,510.10 L547.80,510.24 L548.80,510.37 L549.80,510.50 L550.80,510.63 L551.80,510.75 L552.80,510.87 L553.80,510.98 L554.80,511.09 L555.80,511.20 L556.80,511.31 L557.80,511.41 L558.80,511.50 L559.80,511.60 L560.80,511.69 L561.80,511.78 L562.80,511.87 L563.80,511.95 L564.80,512.03 L565.80,512.11 L566.80,512.18 L567.80,512.25 L568.80,512.32 L569.80,512.39 L570.80,512.45 L571.80,512.51 L572.80,512.57 L573.80,512.62 L574.80,512.68 L575.80,512.73 L576.80,512.78 L577.80,512.82 L578.80,512.87 L579.80,512.91 L580.80,512.95 L581.80,512.99 L582.80,513.02 L583.80,513.06 L584.80,513.09 L585.80,513.12 L586.80,513.15 L587.80,513.17 L588.80,513.20 L589.80,513.22 L590.80,513.24 L591.80,513.26 L592.80,513.28 L593.80,513.30 L594.80,513.31 L595.80,513.33 L596.80,513.34 L597.80,513.35 L598.80,513.36 L599.80,513.37 L600.80,513.38 L601.80,513.39 L602.80,513.39 L603.80,513.40 L604.80,513.40 L605.80,513.40 L606.80,513.41 L607.80,513.41 L608.80,513.41 L609.80,513.41 L610.80,513.41 L611.80,513.41 L612.80,513.41 L613.80,513.41 L614.80,513.40 L615.80,513.40 L616.80,513.40 L617.80,513.40 L618.80,513.39 L619.80,513.39 L620.80,513.39 L621.80,513.38 L622.80,513.38 L623.80,513.38 L624.80,513.37 L625.80,513.37 L626.80,513.37 L627.80,513.36 L628.80,513.36 L629.80,513.36 L630.80,513.36 L631.80,513.36 L632.80,513.36 L633.80,513.36 L634.80,513.36 L635.80,513.36 L636.80,513.36 L637.80,513.36 L638.80,513.37 L639.80,513.37 L640.80,513.38 L641.80,513.38 L642.80,513.39 L643.80,513.40 L644.80,513.41 L645.80,513.42 L646.80,513.43 L647.80,513.44 L648.80,513.46 L649.80,513.47 L650.80,513.49 L651.80,513.51 L652.80,513.53 L653.80,513.55 L654.80,513.57 L655.80,513.60 L656.80,513.63 L657.80,513.65 L658.80,513.69 L659.80,513.72 L660.80,513.75 L661.40,513.77" stroke="#66BC89" stroke-width="1.80" fill="none" stroke-linejoin="round" stroke-linecap="butt"/>
<path d="M404.40,527.80V525.10M404.40,330.90V333.60M451.83,527.80V525.10M451.83,330.90V333.60M499.26,527.80V525.10M499.26,330.90V333.60M546.69,527.80V525.10M546.69,330.90V333.60M594.11,527.80V525.10M594.11,330.90V333.60M641.54,527.80V525.10M641.54,330.90V333.60M404.40,513.27H407.10M670.00,513.27H667.30M404.40,484.51H407.10M670.00,484.51H667.30M404.40,455.74H407.10M670.00,455.74H667.30M404.40,426.98H407.10M670.00,426.98H667.30M404.40,398.21H407.10M670.00,398.21H667.30M404.40,369.45H407.10M670.00,369.45H667.30M404.40,340.68H407.10M670.00,340.68H667.30" stroke="#6e6e6e" stroke-width="1.25" fill="none"/>
<rect x="404.40" y="330.90" width="265.60" height="196.90" fill="none" stroke="#6e6e6e" stroke-width="1.25"/>
<text x="404.65" y="545.60" font-size="14.20" text-anchor="middle" >0</text>
<text x="452.08" y="545.60" font-size="14.20" text-anchor="middle" >10</text>
<text x="499.51" y="545.60" font-size="14.20" text-anchor="middle" >20</text>
<text x="546.94" y="545.60" font-size="14.20" text-anchor="middle" >30</text>
<text x="594.36" y="545.60" font-size="14.20" text-anchor="middle" >40</text>
<text x="641.79" y="545.60" font-size="14.20" text-anchor="middle" >50</text>
<text x="399.90" y="518.77" font-size="14.20" text-anchor="end" >0</text>
<text x="399.90" y="490.01" font-size="14.20" text-anchor="end" >20</text>
<text x="399.90" y="461.24" font-size="14.20" text-anchor="end" >40</text>
<text x="399.90" y="432.48" font-size="14.20" text-anchor="end" >60</text>
<text x="399.90" y="403.71" font-size="14.20" text-anchor="end" >80</text>
<text x="399.90" y="374.95" font-size="14.20" text-anchor="end" >100</text>
<text x="399.90" y="346.18" font-size="14.20" text-anchor="end" >120</text>
<text x="537.20" y="561.90" font-size="17.00" text-anchor="middle"><tspan font-style="italic">t</tspan> (s)</text>
<text transform="translate(371.60,429.35) rotate(-90)" font-size="17.00" text-anchor="middle" textLength="36.8" lengthAdjust="spacingAndGlyphs"><tspan font-style="italic">σ</tspan><tspan font-style="italic" font-size="11" dy="3.2">i</tspan><tspan dy="-3.2"> </tspan>(°)</text>
<text x="456.30" y="583.00" font-size="18.00" textLength="23.60" lengthAdjust="spacingAndGlyphs" fill="#222">(d)</text>
<text x="488.50" y="583.00" font-size="18.00" textLength="99.30" lengthAdjust="spacingAndGlyphs" fill="#222">Look angles</text>
<path d="M94.73,614.80V816.00M138.87,614.80V816.00M183.00,614.80V816.00M227.13,614.80V816.00M271.27,614.80V816.00M50.60,765.60H315.40M50.60,715.50H315.40M50.60,665.40H315.40" stroke="#e6e6e6" stroke-width="1.20" fill="none"/>
<path d="M50.60,803.29 L51.60,800.87 L52.60,798.50 L53.60,796.18 L54.60,793.90 L55.60,791.68 L56.60,789.51 L57.60,787.38 L58.60,785.31 L59.60,783.28 L60.60,781.30 L61.60,779.36 L62.60,777.47 L63.60,775.62 L64.60,773.82 L65.60,772.06 L66.60,770.35 L67.60,768.68 L68.60,767.05 L69.60,765.46 L70.60,763.91 L71.60,762.40 L72.60,760.93 L73.60,759.50 L74.60,758.11 L75.60,756.75 L76.60,755.44 L77.60,754.15 L78.60,752.91 L79.60,751.70 L80.60,750.52 L81.60,749.38 L82.60,748.27 L83.60,747.20 L84.60,746.15 L85.60,745.14 L86.60,744.16 L87.60,743.21 L88.60,742.29 L89.60,741.39 L90.60,740.53 L91.60,739.70 L92.60,738.89 L93.60,738.11 L94.60,737.35 L95.60,736.62 L96.60,735.91 L97.60,735.23 L98.60,734.57 L99.60,733.94 L100.60,733.33 L101.60,732.74 L102.60,732.17 L103.60,731.62 L104.60,731.09 L105.60,730.58 L106.60,730.09 L107.60,729.62 L108.60,729.17 L109.60,728.73 L110.60,728.31 L111.60,727.90 L112.60,727.51 L113.60,727.13 L114.60,726.77 L115.60,726.42 L116.60,726.09 L117.60,725.76 L118.60,725.45 L119.60,725.15 L120.60,724.86 L121.60,724.58 L122.60,724.30 L123.60,724.04 L124.60,723.78 L125.60,723.53 L126.60,723.29 L127.60,723.06 L128.60,722.82 L129.60,722.60 L130.60,722.38 L131.60,722.16 L132.60,721.95 L133.60,721.74 L134.60,721.53 L135.60,721.33 L136.60,721.14 L137.60,720.94 L138.60,720.76 L139.60,720.57 L140.60,720.39 L141.60,720.22 L142.60,720.04 L143.60,719.87 L144.60,719.71 L145.60,719.55 L146.60,719.39 L147.60,719.24 L148.60,719.09 L149.60,718.94 L150.60,718.80 L151.60,718.66 L152.60,718.52 L153.60,718.39 L154.60,718.26 L155.60,718.14 L156.60,718.02 L157.60,717.90 L158.60,717.78 L159.60,717.67 L160.60,717.56 L161.60,717.45 L162.60,717.35 L163.60,717.25 L164.60,717.15 L165.60,717.06 L166.60,716.97 L167.60,716.88 L168.60,716.80 L169.60,716.71 L170.60,716.63 L171.60,716.56 L172.60,716.48 L173.60,716.41 L174.60,716.34 L175.60,716.28 L176.60,716.21 L177.60,716.15 L178.60,716.09 L179.60,716.03 L180.60,715.98 L181.60,715.93 L182.60,715.88 L183.60,715.83 L184.60,715.79 L185.60,715.74 L186.60,715.70 L187.60,715.66 L188.60,715.63 L189.60,715.59 L190.60,715.56 L191.60,715.53 L192.60,715.50 L193.60,715.47 L194.60,715.45 L195.60,715.42 L196.60,715.40 L197.60,715.38 L198.60,715.36 L199.60,715.35 L200.60,715.33 L201.60,715.32 L202.60,715.31 L203.60,715.29 L204.60,715.28 L205.60,715.28 L206.60,715.27 L207.60,715.26 L208.60,715.26 L209.60,715.26 L210.60,715.26 L211.60,715.25 L212.60,715.25 L213.60,715.26 L214.60,715.26 L215.60,715.26 L216.60,715.27 L217.60,715.27 L218.60,715.28 L219.60,715.28 L220.60,715.29 L221.60,715.30 L222.60,715.31 L223.60,715.32 L224.60,715.33 L225.60,715.34 L226.60,715.35 L227.60,715.36 L228.60,715.38 L229.60,715.39 L230.60,715.40 L231.60,715.41 L232.60,715.43 L233.60,715.44 L234.60,715.46 L235.60,715.47 L236.60,715.48 L237.60,715.50 L238.60,715.51 L239.60,715.53 L240.60,715.54 L241.60,715.56 L242.60,715.57 L243.60,715.58 L244.60,715.60 L245.60,715.61 L246.60,715.62 L247.60,715.64 L248.60,715.65 L249.60,715.66 L250.60,715.67 L251.60,715.69 L252.60,715.70 L253.60,715.71 L254.60,715.72 L255.60,715.72 L256.60,715.73 L257.60,715.74 L258.60,715.75 L259.60,715.75 L260.60,715.76 L261.60,715.76 L262.60,715.77 L263.60,715.77 L264.60,715.77 L265.60,715.77 L266.60,715.77 L267.60,715.77 L268.60,715.76 L269.60,715.76 L270.60,715.75 L271.60,715.75 L272.60,715.74 L273.60,715.73 L274.60,715.72 L275.60,715.71 L276.60,715.69 L277.60,715.68 L278.60,715.66 L279.60,715.64 L280.60,715.62 L281.60,715.60 L282.60,715.58 L283.60,715.55 L284.60,715.52 L285.60,715.49 L286.60,715.46 L287.60,715.43 L288.60,715.40 L289.10,715.38" stroke="#EA746F" stroke-width="1.80" fill="none" stroke-linejoin="round" stroke-linecap="butt"/>
<path d="M50.60,797.60 L51.60,794.07 L52.60,790.67 L53.60,787.39 L54.60,784.23 L55.60,781.20 L56.60,778.28 L57.60,775.47 L58.60,772.78 L59.60,770.19 L60.60,767.71 L61.60,765.33 L62.60,763.05 L63.60,760.87 L64.60,758.78 L65.60,756.78 L66.60,754.87 L67.60,753.05 L68.60,751.31 L69.60,749.65 L70.60,748.06 L71.60,746.55 L72.60,745.11 L73.60,743.74 L74.60,742.43 L75.60,741.19 L76.60,740.00 L77.60,738.87 L78.60,737.80 L79.60,736.78 L80.60,735.80 L81.60,734.87 L82.60,733.99 L83.60,733.15 L84.60,732.34 L85.60,731.58 L86.60,730.86 L87.60,730.17 L88.60,729.53 L89.60,728.91 L90.60,728.33 L91.60,727.78 L92.60,727.26 L93.60,726.77 L94.60,726.31 L95.60,725.87 L96.60,725.46 L97.60,725.08 L98.60,724.71 L99.60,724.37 L100.60,724.05 L101.60,723.74 L102.60,723.46 L103.60,723.19 L104.60,722.93 L105.60,722.69 L106.60,722.46 L107.60,722.24 L108.60,722.03 L109.60,721.82 L110.60,721.63 L111.60,721.44 L112.60,721.25 L113.60,721.07 L114.60,720.89 L115.60,720.71 L116.60,720.54 L117.60,720.37 L118.60,720.20 L119.60,720.04 L120.60,719.88 L121.60,719.72 L122.60,719.57 L123.60,719.42 L124.60,719.27 L125.60,719.13 L126.60,718.99 L127.60,718.85 L128.60,718.71 L129.60,718.58 L130.60,718.45 L131.60,718.32 L132.60,718.20 L133.60,718.08 L134.60,717.96 L135.60,717.85 L136.60,717.74 L137.60,717.63 L138.60,717.52 L139.60,717.42 L140.60,717.31 L141.60,717.22 L142.60,717.12 L143.60,717.03 L144.60,716.93 L145.60,716.85 L146.60,716.76 L147.60,716.68 L148.60,716.60 L149.60,716.52 L150.60,716.44 L151.60,716.37 L152.60,716.29 L153.60,716.22 L154.60,716.16 L155.60,716.09 L156.60,716.03 L157.60,715.97 L158.60,715.91 L159.60,715.85 L160.60,715.80 L161.60,715.75 L162.60,715.69 L163.60,715.65 L164.60,715.60 L165.60,715.56 L166.60,715.51 L167.60,715.47 L168.60,715.43 L169.60,715.39 L170.60,715.36 L171.60,715.33 L172.60,715.29 L173.60,715.26 L174.60,715.23 L175.60,715.21 L176.60,715.18 L177.60,715.16 L178.60,715.14 L179.60,715.11 L180.60,715.10 L181.60,715.08 L182.60,715.06 L183.60,715.05 L184.60,715.03 L185.60,715.02 L186.60,715.01 L187.60,715.00 L188.60,714.99 L189.60,714.98 L190.60,714.98 L191.60,714.97 L192.60,714.97 L193.60,714.97 L194.60,714.96 L195.60,714.96 L196.60,714.96 L197.60,714.96 L198.60,714.97 L199.60,714.97 L200.60,714.97 L201.60,714.98 L202.60,714.98 L203.60,714.99 L204.60,715.00 L205.60,715.01 L206.60,715.02 L207.60,715.03 L208.60,715.04 L209.60,715.05 L210.60,715.06 L211.60,715.07 L212.60,715.08 L213.60,715.10 L214.60,715.11 L215.60,715.12 L216.60,715.14 L217.60,715.15 L218.60,715.17 L219.60,715.18 L220.60,715.20 L221.60,715.22 L222.60,715.23 L223.60,715.25 L224.60,715.27 L225.60,715.28 L226.60,715.30 L227.60,715.32 L228.60,715.33 L229.60,715.35 L230.60,715.37 L231.60,715.39 L232.60,715.40 L233.60,715.42 L234.60,715.44 L235.60,715.45 L236.60,715.47 L237.60,715.49 L238.60,715.51 L239.60,715.52 L240.60,715.54 L241.60,715.55 L242.60,715.57 L243.60,715.58 L244.60,715.60 L245.60,715.61 L246.60,715.63 L247.60,715.64 L248.60,715.65 L249.60,715.66 L250.60,715.68 L251.60,715.69 L252.60,715.70 L253.60,715.71 L254.60,715.72 L255.60,715.72 L256.60,715.73 L257.60,715.74 L258.60,715.75 L259.60,715.75 L260.60,715.76 L261.60,715.76 L262.60,715.76 L263.60,715.76 L264.60,715.76 L265.60,715.76 L266.60,715.76 L267.60,715.76 L268.60,715.76 L269.60,715.75 L270.60,715.75 L271.60,715.74 L272.60,715.73 L273.60,715.72 L274.60,715.71 L275.60,715.70 L276.60,715.69 L277.60,715.67 L278.60,715.65 L279.60,715.64 L280.60,715.62 L281.60,715.60 L282.60,715.58 L283.60,715.55 L284.60,715.53 L285.60,715.50 L286.60,715.47 L287.60,715.44 L288.60,715.41 L289.10,715.40" stroke="#5AA7DE" stroke-width="1.80" fill="none" stroke-linejoin="round" stroke-linecap="butt"/>
<path d="M50.60,766.55 L51.60,765.56 L52.60,764.59 L53.60,763.62 L54.60,762.67 L55.60,761.74 L56.60,760.81 L57.60,759.90 L58.60,759.01 L59.60,758.12 L60.60,757.25 L61.60,756.39 L62.60,755.55 L63.60,754.72 L64.60,753.90 L65.60,753.09 L66.60,752.30 L67.60,751.51 L68.60,750.74 L69.60,749.98 L70.60,749.24 L71.60,748.50 L72.60,747.78 L73.60,747.07 L74.60,746.37 L75.60,745.68 L76.60,745.00 L77.60,744.34 L78.60,743.68 L79.60,743.04 L80.60,742.40 L81.60,741.78 L82.60,741.17 L83.60,740.57 L84.60,739.97 L85.60,739.39 L86.60,738.82 L87.60,738.26 L88.60,737.71 L89.60,737.17 L90.60,736.64 L91.60,736.12 L92.60,735.60 L93.60,735.10 L94.60,734.61 L95.60,734.12 L96.60,733.65 L97.60,733.18 L98.60,732.72 L99.60,732.27 L100.60,731.83 L101.60,731.40 L102.60,730.98 L103.60,730.56 L104.60,730.16 L105.60,729.76 L106.60,729.37 L107.60,728.98 L108.60,728.61 L109.60,728.24 L110.60,727.88 L111.60,727.53 L112.60,727.18 L113.60,726.85 L114.60,726.52 L115.60,726.19 L116.60,725.88 L117.60,725.57 L118.60,725.26 L119.60,724.96 L120.60,724.67 L121.60,724.39 L122.60,724.11 L123.60,723.84 L124.60,723.57 L125.60,723.31 L126.60,723.06 L127.60,722.81 L128.60,722.57 L129.60,722.33 L130.60,722.10 L131.60,721.87 L132.60,721.65 L133.60,721.44 L134.60,721.22 L135.60,721.02 L136.60,720.81 L137.60,720.62 L138.60,720.42 L139.60,720.24 L140.60,720.05 L141.60,719.87 L142.60,719.70 L143.60,719.52 L144.60,719.36 L145.60,719.19 L146.60,719.03 L147.60,718.88 L148.60,718.73 L149.60,718.58 L150.60,718.44 L151.60,718.30 L152.60,718.16 L153.60,718.03 L154.60,717.90 L155.60,717.78 L156.60,717.66 L157.60,717.54 L158.60,717.42 L159.60,717.31 L160.60,717.21 L161.60,717.10 L162.60,717.00 L163.60,716.90 L164.60,716.81 L165.60,716.72 L166.60,716.63 L167.60,716.55 L168.60,716.47 L169.60,716.39 L170.60,716.31 L171.60,716.24 L172.60,716.17 L173.60,716.10 L174.60,716.04 L175.60,715.98 L176.60,715.92 L177.60,715.86 L178.60,715.81 L179.60,715.76 L180.60,715.71 L181.60,715.66 L182.60,715.62 L183.60,715.58 L184.60,715.54 L185.60,715.50 L186.60,715.47 L187.60,715.44 L188.60,715.41 L189.60,715.38 L190.60,715.35 L191.60,715.33 L192.60,715.31 L193.60,715.29 L194.60,715.27 L195.60,715.25 L196.60,715.24 L197.60,715.23 L198.60,715.22 L199.60,715.21 L200.60,715.20 L201.60,715.19 L202.60,715.19 L203.60,715.18 L204.60,715.18 L205.60,715.18 L206.60,715.18 L207.60,715.18 L208.60,715.19 L209.60,715.19 L210.60,715.20 L211.60,715.20 L212.60,715.21 L213.60,715.22 L214.60,715.23 L215.60,715.24 L216.60,715.25 L217.60,715.26 L218.60,715.28 L219.60,715.29 L220.60,715.30 L221.60,715.32 L222.60,715.33 L223.60,715.35 L224.60,715.37 L225.60,715.38 L226.60,715.40 L227.60,715.42 L228.60,715.44 L229.60,715.46 L230.60,715.47 L231.60,715.49 L232.60,715.51 L233.60,715.53 L234.60,715.55 L235.60,715.57 L236.60,715.59 L237.60,715.61 L238.60,715.62 L239.60,715.64 L240.60,715.66 L241.60,715.68 L242.60,715.70 L243.60,715.71 L244.60,715.73 L245.60,715.75 L246.60,715.76 L247.60,715.78 L248.60,715.79 L249.60,715.80 L250.60,715.82 L251.60,715.83 L252.60,715.84 L253.60,715.85 L254.60,715.86 L255.60,715.87 L256.60,715.88 L257.60,715.89 L258.60,715.89 L259.60,715.90 L260.60,715.90 L261.60,715.90 L262.60,715.90 L263.60,715.90 L264.60,715.90 L265.60,715.90 L266.60,715.90 L267.60,715.89 L268.60,715.88 L269.60,715.87 L270.60,715.86 L271.60,715.85 L272.60,715.84 L273.60,715.82 L274.60,715.80 L275.60,715.78 L276.60,715.76 L277.60,715.74 L278.60,715.71 L279.60,715.69 L280.60,715.66 L281.60,715.63 L282.60,715.59 L283.60,715.56 L284.60,715.52 L285.60,715.48 L286.60,715.44 L287.60,715.39 L288.60,715.34 L289.10,715.32" stroke="#8881C6" stroke-width="1.80" fill="none" stroke-linejoin="round" stroke-linecap="butt"/>
<path d="M50.60,645.19 L51.60,646.36 L52.60,647.51 L53.60,648.66 L54.60,649.79 L55.60,650.91 L56.60,652.01 L57.60,653.10 L58.60,654.18 L59.60,655.24 L60.60,656.29 L61.60,657.33 L62.60,658.36 L63.60,659.37 L64.60,660.37 L65.60,661.36 L66.60,662.34 L67.60,663.30 L68.60,664.25 L69.60,665.19 L70.60,666.12 L71.60,667.04 L72.60,667.94 L73.60,668.83 L74.60,669.71 L75.60,670.58 L76.60,671.43 L77.60,672.28 L78.60,673.11 L79.60,673.94 L80.60,674.75 L81.60,675.55 L82.60,676.34 L83.60,677.11 L84.60,677.88 L85.60,678.64 L86.60,679.38 L87.60,680.12 L88.60,680.84 L89.60,681.56 L90.60,682.26 L91.60,682.95 L92.60,683.64 L93.60,684.31 L94.60,684.97 L95.60,685.62 L96.60,686.27 L97.60,686.90 L98.60,687.52 L99.60,688.14 L100.60,688.74 L101.60,689.34 L102.60,689.92 L103.60,690.50 L104.60,691.07 L105.60,691.63 L106.60,692.17 L107.60,692.71 L108.60,693.25 L109.60,693.77 L110.60,694.28 L111.60,694.79 L112.60,695.28 L113.60,695.77 L114.60,696.25 L115.60,696.72 L116.60,697.19 L117.60,697.64 L118.60,698.09 L119.60,698.53 L120.60,698.96 L121.60,699.39 L122.60,699.80 L123.60,700.21 L124.60,700.61 L125.60,701.01 L126.60,701.39 L127.60,701.77 L128.60,702.14 L129.60,702.51 L130.60,702.87 L131.60,703.22 L132.60,703.56 L133.60,703.90 L134.60,704.23 L135.60,704.56 L136.60,704.87 L137.60,705.19 L138.60,705.49 L139.60,705.79 L140.60,706.08 L141.60,706.37 L142.60,706.65 L143.60,706.93 L144.60,707.20 L145.60,707.46 L146.60,707.72 L147.60,707.97 L148.60,708.22 L149.60,708.46 L150.60,708.69 L151.60,708.92 L152.60,709.15 L153.60,709.37 L154.60,709.59 L155.60,709.80 L156.60,710.00 L157.60,710.20 L158.60,710.40 L159.60,710.59 L160.60,710.78 L161.60,710.96 L162.60,711.14 L163.60,711.31 L164.60,711.48 L165.60,711.64 L166.60,711.80 L167.60,711.95 L168.60,712.11 L169.60,712.25 L170.60,712.39 L171.60,712.53 L172.60,712.67 L173.60,712.80 L174.60,712.92 L175.60,713.04 L176.60,713.16 L177.60,713.28 L178.60,713.39 L179.60,713.49 L180.60,713.60 L181.60,713.70 L182.60,713.79 L183.60,713.89 L184.60,713.98 L185.60,714.06 L186.60,714.15 L187.60,714.23 L188.60,714.30 L189.60,714.38 L190.60,714.45 L191.60,714.51 L192.60,714.58 L193.60,714.64 L194.60,714.70 L195.60,714.75 L196.60,714.81 L197.60,714.86 L198.60,714.91 L199.60,714.95 L200.60,714.99 L201.60,715.04 L202.60,715.07 L203.60,715.11 L204.60,715.14 L205.60,715.17 L206.60,715.20 L207.60,715.23 L208.60,715.26 L209.60,715.28 L210.60,715.30 L211.60,715.32 L212.60,715.34 L213.60,715.35 L214.60,715.37 L215.60,715.38 L216.60,715.39 L217.60,715.40 L218.60,715.41 L219.60,715.41 L220.60,715.42 L221.60,715.42 L222.60,715.42 L223.60,715.43 L224.60,715.43 L225.60,715.42 L226.60,715.42 L227.60,715.42 L228.60,715.42 L229.60,715.41 L230.60,715.41 L231.60,715.40 L232.60,715.39 L233.60,715.38 L234.60,715.38 L235.60,715.37 L236.60,715.36 L237.60,715.35 L238.60,715.34 L239.60,715.33 L240.60,715.32 L241.60,715.31 L242.60,715.30 L243.60,715.29 L244.60,715.27 L245.60,715.26 L246.60,715.25 L247.60,715.24 L248.60,715.23 L249.60,715.22 L250.60,715.21 L251.60,715.20 L252.60,715.19 L253.60,715.18 L254.60,715.18 L255.60,715.17 L256.60,715.16 L257.60,715.16 L258.60,715.15 L259.60,715.15 L260.60,715.14 L261.60,715.14 L262.60,715.14 L263.60,715.14 L264.60,715.14 L265.60,715.14 L266.60,715.14 L267.60,715.15 L268.60,715.15 L269.60,715.16 L270.60,715.17 L271.60,715.18 L272.60,715.19 L273.60,715.20 L274.60,715.21 L275.60,715.23 L276.60,715.25 L277.60,715.27 L278.60,715.29 L279.60,715.31 L280.60,715.34 L281.60,715.37 L282.60,715.40 L283.60,715.43 L284.60,715.46 L285.60,715.50 L286.60,715.54 L287.60,715.58 L288.60,715.62 L289.10,715.65" stroke="#66BC89" stroke-width="1.80" fill="none" stroke-linejoin="round" stroke-linecap="butt"/>
<path d="M50.60,816.00V813.30M50.60,614.80V617.50M94.73,816.00V813.30M94.73,614.80V617.50M138.87,816.00V813.30M138.87,614.80V617.50M183.00,816.00V813.30M183.00,614.80V617.50M227.13,816.00V813.30M227.13,614.80V617.50M271.27,816.00V813.30M271.27,614.80V617.50M315.40,816.00V813.30M315.40,614.80V617.50M50.60,815.70H53.30M315.40,815.70H312.70M50.60,765.60H53.30M315.40,765.60H312.70M50.60,715.50H53.30M315.40,715.50H312.70M50.60,665.40H53.30M315.40,665.40H312.70M50.60,615.30H53.30M315.40,615.30H312.70" stroke="#6e6e6e" stroke-width="1.25" fill="none"/>
<rect x="50.60" y="614.80" width="264.80" height="201.20" fill="none" stroke="#6e6e6e" stroke-width="1.25"/>
<text x="50.85" y="833.80" font-size="14.20" text-anchor="middle" >0</text>
<text x="94.98" y="833.80" font-size="14.20" text-anchor="middle" >10</text>
<text x="139.12" y="833.80" font-size="14.20" text-anchor="middle" >20</text>
<text x="183.25" y="833.80" font-size="14.20" text-anchor="middle" >30</text>
<text x="227.38" y="833.80" font-size="14.20" text-anchor="middle" >40</text>
<text x="271.52" y="833.80" font-size="14.20" text-anchor="middle" >50</text>
<text x="315.65" y="833.80" font-size="14.20" text-anchor="middle" >60</text>
<text x="46.10" y="821.20" font-size="14.20" text-anchor="end" >-100</text>
<text x="46.10" y="771.10" font-size="14.20" text-anchor="end" >-50</text>
<text x="46.10" y="721.00" font-size="14.20" text-anchor="end" >0</text>
<text x="46.10" y="670.90" font-size="14.20" text-anchor="end" >50</text>
<text x="46.10" y="620.80" font-size="14.20" text-anchor="end" >100</text>
<text x="183.00" y="850.10" font-size="17.00" text-anchor="middle"><tspan font-style="italic">t</tspan> (s)</text>
<text transform="translate(12.90,715.40) rotate(-90)" font-size="17.00" text-anchor="middle"><tspan font-style="italic">e</tspan><tspan font-style="italic" font-size="11" dy="3.2">i</tspan><tspan dy="-3.2"> </tspan>(°)</text>
<text x="83.90" y="871.30" font-size="18.00" textLength="22.40" lengthAdjust="spacingAndGlyphs" fill="#222">(e)</text>
<text x="114.50" y="871.30" font-size="18.00" textLength="128.20" lengthAdjust="spacingAndGlyphs" fill="#222">Tracking errors</text>
<path d="M463.04,617.70V817.10M516.08,617.70V817.10M569.12,617.70V817.10M622.16,617.70V817.10M410.00,767.25H675.20M410.00,717.40H675.20M410.00,667.55H675.20" stroke="#e6e6e6" stroke-width="1.20" fill="none"/>
<path d="M410.1,617.7V693.5" stroke="#8881C6" stroke-width="1.80"/>
<path d="M410.1,817.1V749.6" stroke="#66BC89" stroke-width="1.80"/>
<path d="M410.30,648.85 L411.30,651.37 L412.30,653.83 L413.30,656.21 L414.30,658.54 L415.30,660.80 L416.30,663.00 L417.30,665.14 L418.30,667.22 L419.30,669.25 L420.30,671.22 L421.30,673.13 L422.30,674.99 L423.30,676.80 L424.30,678.56 L425.30,680.28 L426.30,681.94 L427.30,683.56 L428.30,685.13 L429.30,686.66 L430.30,688.15 L431.30,689.60 L432.30,691.00 L433.30,692.37 L434.30,693.71 L435.30,695.01 L436.30,696.27 L437.30,697.50 L438.30,698.71 L439.30,699.88 L440.30,701.02 L441.30,702.14 L442.30,703.23 L443.30,704.30 L444.30,705.35 L445.30,706.37 L446.30,707.38 L447.30,708.36 L448.30,709.33 L449.30,710.28 L450.30,711.22 L451.30,712.15 L452.30,713.06 L453.30,713.96 L454.30,714.86 L455.30,715.74 L456.30,716.62 L457.30,717.49 L458.30,718.35 L459.30,719.20 L460.30,720.05 L461.30,720.89 L462.30,721.72 L463.30,722.55 L464.30,723.37 L465.30,724.19 L466.30,725.00 L467.30,725.81 L468.30,726.62 L469.30,727.42 L470.30,728.22 L471.30,729.02 L472.30,729.81 L473.30,730.61 L474.30,731.40 L475.30,732.19 L476.30,732.99 L477.30,733.78 L478.30,734.57 L479.30,735.37 L480.30,736.16 L481.30,736.96 L482.30,737.76 L483.30,738.56 L484.30,739.37 L485.30,740.18 L486.30,740.99 L487.30,741.81 L488.30,742.64 L489.30,743.46 L490.30,744.30 L491.30,745.14 L492.30,745.98 L493.30,746.84 L494.30,747.70 L495.30,748.57 L496.30,749.44 L497.30,750.33 L498.30,751.22 L499.30,752.13 L500.30,753.04 L501.30,753.97 L502.30,754.90 L503.30,755.85 L504.30,756.81 L505.30,757.78 L506.30,758.76 L507.30,759.75 L508.30,760.76 L509.30,761.78 L510.30,762.82 L511.30,763.87 L512.30,764.94 L513.30,766.02 L514.30,767.11 L515.30,768.23 L516.30,769.36 L517.30,770.50 L518.30,771.64 L519.30,772.77 L520.30,773.88 L521.30,774.97 L522.30,776.02 L523.30,777.02 L524.30,777.97 L525.30,778.85 L526.30,779.66 L527.30,780.38 L528.30,781.01 L529.30,781.54 L530.30,781.96 L531.30,782.25 L532.30,782.42 L533.30,782.44 L534.30,782.33 L535.30,782.08 L536.30,781.71 L537.30,781.22 L538.30,780.62 L539.30,779.91 L540.30,779.10 L541.30,778.20 L542.30,777.21 L543.30,776.14 L544.30,775.00 L545.30,773.79 L546.30,772.52 L547.30,771.19 L548.30,769.82 L549.30,768.41 L550.30,766.96 L551.30,765.48 L552.30,763.98 L553.30,762.47 L554.30,760.95 L555.30,759.43 L556.30,757.92 L557.30,756.42 L558.30,754.94 L559.30,753.49 L560.30,752.07 L561.30,750.70 L562.30,749.37 L563.30,748.08 L564.30,746.83 L565.30,745.63 L566.30,744.46 L567.30,743.33 L568.30,742.24 L569.30,741.19 L570.30,740.17 L571.30,739.18 L572.30,738.22 L573.30,737.30 L574.30,736.41 L575.30,735.55 L576.30,734.72 L577.30,733.93 L578.30,733.16 L579.30,732.41 L580.30,731.70 L581.30,731.02 L582.30,730.36 L583.30,729.72 L584.30,729.12 L585.30,728.54 L586.30,727.98 L587.30,727.45 L588.30,726.94 L589.30,726.45 L590.30,725.98 L591.30,725.54 L592.30,725.11 L593.30,724.71 L594.30,724.33 L595.30,723.96 L596.30,723.62 L597.30,723.29 L598.30,722.97 L599.30,722.68 L600.30,722.40 L601.30,722.14 L602.30,721.89 L603.30,721.65 L604.30,721.43 L605.30,721.22 L606.30,721.02 L607.30,720.84 L608.30,720.67 L609.30,720.50 L610.30,720.35 L611.30,720.20 L612.30,720.07 L613.30,719.94 L614.30,719.82 L615.30,719.71 L616.30,719.60 L617.30,719.50 L618.30,719.40 L619.30,719.31 L620.30,719.22 L621.30,719.14 L622.30,719.05 L623.30,718.97 L624.30,718.89 L625.30,718.82 L626.30,718.74 L627.30,718.67 L628.30,718.60 L629.30,718.53 L630.30,718.46 L631.30,718.40 L632.30,718.33 L633.30,718.27 L634.30,718.21 L635.30,718.15 L636.30,718.10 L637.30,718.05 L638.30,717.99 L639.30,717.94 L640.30,717.90 L641.30,717.85 L642.30,717.81 L643.30,717.77 L644.30,717.73 L645.30,717.69 L646.30,717.65 L647.30,717.62 L648.30,717.59 L649.30,717.56 L650.30,717.53 L651.30,717.51 L652.30,717.48 L653.30,717.46 L654.30,717.44 L655.30,717.42 L656.30,717.41 L657.30,717.40 L658.30,717.38 L659.30,717.38 L660.30,717.37 L661.30,717.36 L662.30,717.36 L663.30,717.36 L664.30,717.36 L665.30,717.37 L666.30,717.37 L667.30,717.38 L668.30,717.39 L669.30,717.40 L670.30,717.42 L671.30,717.43 L672.30,717.45 L673.30,717.47 L674.30,717.50 L675.20,717.52" stroke="#EA746F" stroke-width="1.80" fill="none" stroke-linejoin="round" stroke-linecap="butt"/>
<path d="M410.10,617.57 L411.10,621.64 L412.10,625.67 L413.10,629.65 L414.10,633.59 L415.10,637.47 L416.10,641.29 L417.10,645.05 L418.10,648.75 L419.10,652.37 L420.10,655.92 L421.10,659.39 L422.10,662.77 L423.10,666.06 L424.10,669.26 L425.10,672.36 L426.10,675.36 L427.10,678.25 L428.10,681.04 L429.10,683.71 L430.10,686.29 L431.10,688.76 L432.10,691.14 L433.10,693.42 L434.10,695.60 L435.10,697.70 L436.10,699.70 L437.10,701.62 L438.10,703.46 L439.10,705.21 L440.10,706.89 L441.10,708.49 L442.10,710.01 L443.10,711.46 L444.10,712.85 L445.10,714.16 L446.10,715.42 L447.10,716.60 L448.10,717.73 L449.10,718.81 L450.10,719.82 L451.10,720.79 L452.10,721.70 L453.10,722.57 L454.10,723.39 L455.10,724.17 L456.10,724.90 L457.10,725.60 L458.10,726.26 L459.10,726.88 L460.10,727.48 L461.10,728.04 L462.10,728.57 L463.10,729.08 L464.10,729.56 L465.10,730.02 L466.10,730.46 L467.10,730.88 L468.10,731.28 L469.10,731.67 L470.10,732.05 L471.10,732.42 L472.10,732.78 L473.10,733.14 L474.10,733.49 L475.10,733.85 L476.10,734.20 L477.10,734.55 L478.10,734.92 L479.10,735.28 L480.10,735.66 L481.10,736.05 L482.10,736.45 L483.10,736.87 L484.10,737.31 L485.10,737.76 L486.10,738.24 L487.10,738.74 L488.10,739.27 L489.10,739.82 L490.10,740.41 L491.10,741.03 L492.10,741.67 L493.10,742.35 L494.10,743.06 L495.10,743.80 L496.10,744.57 L497.10,745.36 L498.10,746.19 L499.10,747.05 L500.10,747.93 L501.10,748.85 L502.10,749.79 L503.10,750.76 L504.10,751.76 L505.10,752.79 L506.10,753.84 L507.10,754.93 L508.10,756.04 L509.10,757.18 L510.10,758.35 L511.10,759.54 L512.10,760.77 L513.10,762.01 L514.10,763.29 L515.10,764.59 L516.10,765.92 L517.10,767.28 L518.10,768.66 L519.10,770.06 L520.10,771.50 L521.10,772.95 L522.10,774.44 L523.10,775.95 L524.10,777.48 L525.10,779.04 L526.10,780.62 L527.10,782.20 L528.10,783.80 L529.10,785.39 L530.10,786.96 L531.10,788.52 L532.10,790.05 L533.10,791.54 L534.10,792.99 L535.10,794.38 L536.10,795.72 L537.10,796.99 L538.10,798.18 L539.10,799.29 L540.10,800.31 L541.10,801.23 L542.10,802.05 L543.10,802.74 L544.10,803.32 L545.10,803.76 L546.10,804.07 L547.10,804.23 L548.10,804.24 L549.10,804.08 L550.10,803.75 L551.10,803.25 L552.10,802.56 L553.10,801.67 L554.10,800.59 L555.10,799.29 L556.10,797.79 L557.10,796.11 L558.10,794.25 L559.10,792.26 L560.10,790.13 L561.10,787.90 L562.10,785.59 L563.10,783.21 L564.10,780.79 L565.10,778.34 L566.10,775.89 L567.10,773.45 L568.10,771.04 L569.10,768.67 L570.10,766.34 L571.10,764.07 L572.10,761.85 L573.10,759.69 L574.10,757.60 L575.10,755.58 L576.10,753.65 L577.10,751.79 L578.10,750.01 L579.10,748.30 L580.10,746.66 L581.10,745.10 L582.10,743.60 L583.10,742.18 L584.10,740.81 L585.10,739.51 L586.10,738.28 L587.10,737.10 L588.10,735.98 L589.10,734.92 L590.10,733.91 L591.10,732.95 L592.10,732.05 L593.10,731.19 L594.10,730.38 L595.10,729.62 L596.10,728.90 L597.10,728.22 L598.10,727.58 L599.10,726.98 L600.10,726.41 L601.10,725.88 L602.10,725.38 L603.10,724.92 L604.10,724.48 L605.10,724.07 L606.10,723.68 L607.10,723.32 L608.10,722.98 L609.10,722.66 L610.10,722.36 L611.10,722.07 L612.10,721.80 L613.10,721.54 L614.10,721.29 L615.10,721.05 L616.10,720.82 L617.10,720.60 L618.10,720.39 L619.10,720.19 L620.10,720.00 L621.10,719.82 L622.10,719.65 L623.10,719.48 L624.10,719.33 L625.10,719.18 L626.10,719.04 L627.10,718.90 L628.10,718.78 L629.10,718.66 L630.10,718.55 L631.10,718.44 L632.10,718.34 L633.10,718.25 L634.10,718.17 L635.10,718.09 L636.10,718.01 L637.10,717.95 L638.10,717.88 L639.10,717.83 L640.10,717.77 L641.10,717.73 L642.10,717.68 L643.10,717.65 L644.10,717.61 L645.10,717.58 L646.10,717.56 L647.10,717.53 L648.10,717.51 L649.10,717.50 L650.10,717.48 L651.10,717.47 L652.10,717.46 L653.10,717.46 L654.10,717.45 L655.10,717.45 L656.10,717.45 L657.10,717.46 L658.10,717.46 L659.10,717.46 L660.10,717.47 L661.10,717.47 L662.10,717.48 L663.10,717.49 L664.10,717.49 L665.10,717.50 L666.10,717.51 L667.10,717.51 L668.10,717.52 L669.10,717.52 L670.10,717.53 L671.10,717.53 L672.10,717.53 L673.10,717.53 L674.10,717.53 L675.10,717.52 L675.20,717.52" stroke="#5AA7DE" stroke-width="1.80" fill="none" stroke-linejoin="round" stroke-linecap="butt"/>
<path d="M410.10,693.52 L411.10,694.33 L412.10,695.15 L413.10,695.96 L414.10,696.77 L415.10,697.58 L416.10,698.39 L417.10,699.19 L418.10,699.99 L419.10,700.80 L420.10,701.60 L421.10,702.39 L422.10,703.19 L423.10,703.98 L424.10,704.77 L425.10,705.56 L426.10,706.35 L427.10,707.14 L428.10,707.92 L429.10,708.70 L430.10,709.48 L431.10,710.26 L432.10,711.03 L433.10,711.80 L434.10,712.57 L435.10,713.34 L436.10,714.10 L437.10,714.86 L438.10,715.62 L439.10,716.38 L440.10,717.13 L441.10,717.88 L442.10,718.63 L443.10,719.37 L444.10,720.11 L445.10,720.85 L446.10,721.59 L447.10,722.32 L448.10,723.05 L449.10,723.78 L450.10,724.50 L451.10,725.22 L452.10,725.94 L453.10,726.65 L454.10,727.36 L455.10,728.07 L456.10,728.77 L457.10,729.47 L458.10,730.17 L459.10,730.86 L460.10,731.55 L461.10,732.24 L462.10,732.92 L463.10,733.60 L464.10,734.27 L465.10,734.94 L466.10,735.61 L467.10,736.27 L468.10,736.93 L469.10,737.59 L470.10,738.24 L471.10,738.89 L472.10,739.53 L473.10,740.17 L474.10,740.81 L475.10,741.44 L476.10,742.06 L477.10,742.68 L478.10,743.29 L479.10,743.90 L480.10,744.49 L481.10,745.08 L482.10,745.66 L483.10,746.23 L484.10,746.78 L485.10,747.32 L486.10,747.85 L487.10,748.37 L488.10,748.87 L489.10,749.36 L490.10,749.83 L491.10,750.28 L492.10,750.72 L493.10,751.14 L494.10,751.54 L495.10,751.92 L496.10,752.28 L497.10,752.61 L498.10,752.93 L499.10,753.22 L500.10,753.49 L501.10,753.74 L502.10,753.95 L503.10,754.15 L504.10,754.31 L505.10,754.45 L506.10,754.56 L507.10,754.65 L508.10,754.70 L509.10,754.72 L510.10,754.71 L511.10,754.67 L512.10,754.59 L513.10,754.48 L514.10,754.34 L515.10,754.16 L516.10,753.95 L517.10,753.70 L518.10,753.41 L519.10,753.08 L520.10,752.72 L521.10,752.31 L522.10,751.87 L523.10,751.38 L524.10,750.87 L525.10,750.32 L526.10,749.74 L527.10,749.13 L528.10,748.50 L529.10,747.85 L530.10,747.18 L531.10,746.49 L532.10,745.78 L533.10,745.06 L534.10,744.34 L535.10,743.60 L536.10,742.87 L537.10,742.13 L538.10,741.39 L539.10,740.65 L540.10,739.92 L541.10,739.19 L542.10,738.48 L543.10,737.78 L544.10,737.10 L545.10,736.43 L546.10,735.78 L547.10,735.15 L548.10,734.54 L549.10,733.95 L550.10,733.38 L551.10,732.83 L552.10,732.29 L553.10,731.78 L554.10,731.28 L555.10,730.80 L556.10,730.35 L557.10,729.91 L558.10,729.49 L559.10,729.09 L560.10,728.70 L561.10,728.33 L562.10,727.98 L563.10,727.64 L564.10,727.31 L565.10,727.00 L566.10,726.70 L567.10,726.42 L568.10,726.14 L569.10,725.88 L570.10,725.62 L571.10,725.38 L572.10,725.14 L573.10,724.91 L574.10,724.69 L575.10,724.48 L576.10,724.27 L577.10,724.07 L578.10,723.87 L579.10,723.68 L580.10,723.49 L581.10,723.30 L582.10,723.12 L583.10,722.94 L584.10,722.77 L585.10,722.59 L586.10,722.43 L587.10,722.26 L588.10,722.10 L589.10,721.94 L590.10,721.79 L591.10,721.64 L592.10,721.49 L593.10,721.35 L594.10,721.21 L595.10,721.07 L596.10,720.94 L597.10,720.81 L598.10,720.68 L599.10,720.55 L600.10,720.43 L601.10,720.32 L602.10,720.20 L603.10,720.09 L604.10,719.98 L605.10,719.87 L606.10,719.77 L607.10,719.67 L608.10,719.57 L609.10,719.47 L610.10,719.38 L611.10,719.29 L612.10,719.21 L613.10,719.12 L614.10,719.04 L615.10,718.96 L616.10,718.88 L617.10,718.81 L618.10,718.74 L619.10,718.67 L620.10,718.60 L621.10,718.54 L622.10,718.47 L623.10,718.41 L624.10,718.36 L625.10,718.30 L626.10,718.25 L627.10,718.19 L628.10,718.15 L629.10,718.10 L630.10,718.05 L631.10,718.01 L632.10,717.97 L633.10,717.93 L634.10,717.89 L635.10,717.86 L636.10,717.82 L637.10,717.79 L638.10,717.76 L639.10,717.73 L640.10,717.70 L641.10,717.68 L642.10,717.65 L643.10,717.63 L644.10,717.61 L645.10,717.59 L646.10,717.57 L647.10,717.56 L648.10,717.54 L649.10,717.53 L650.10,717.52 L651.10,717.50 L652.10,717.50 L653.10,717.49 L654.10,717.48 L655.10,717.47 L656.10,717.47 L657.10,717.46 L658.10,717.46 L659.10,717.46 L660.10,717.46 L661.10,717.46 L662.10,717.46 L663.10,717.46 L664.10,717.46 L665.10,717.46 L666.10,717.47 L667.10,717.47 L668.10,717.47 L669.10,717.48 L670.10,717.49 L671.10,717.49 L672.10,717.50 L673.10,717.51 L674.10,717.52 L675.10,717.52 L675.20,717.53" stroke="#8881C6" stroke-width="1.80" fill="none" stroke-linejoin="round" stroke-linecap="butt"/>
<path d="M410.10,749.59 L411.10,749.22 L412.10,748.85 L413.10,748.49 L414.10,748.13 L415.10,747.77 L416.10,747.41 L417.10,747.06 L418.10,746.71 L419.10,746.36 L420.10,746.01 L421.10,745.67 L422.10,745.33 L423.10,745.00 L424.10,744.66 L425.10,744.33 L426.10,744.00 L427.10,743.68 L428.10,743.35 L429.10,743.03 L430.10,742.72 L431.10,742.40 L432.10,742.09 L433.10,741.78 L434.10,741.47 L435.10,741.17 L436.10,740.87 L437.10,740.57 L438.10,740.27 L439.10,739.98 L440.10,739.69 L441.10,739.40 L442.10,739.12 L443.10,738.83 L444.10,738.55 L445.10,738.27 L446.10,738.00 L447.10,737.73 L448.10,737.46 L449.10,737.19 L450.10,736.92 L451.10,736.66 L452.10,736.40 L453.10,736.14 L454.10,735.89 L455.10,735.63 L456.10,735.38 L457.10,735.13 L458.10,734.89 L459.10,734.64 L460.10,734.40 L461.10,734.16 L462.10,733.93 L463.10,733.69 L464.10,733.46 L465.10,733.23 L466.10,733.00 L467.10,732.78 L468.10,732.55 L469.10,732.33 L470.10,732.12 L471.10,731.90 L472.10,731.69 L473.10,731.47 L474.10,731.26 L475.10,731.06 L476.10,730.85 L477.10,730.65 L478.10,730.45 L479.10,730.25 L480.10,730.05 L481.10,729.86 L482.10,729.67 L483.10,729.48 L484.10,729.29 L485.10,729.10 L486.10,728.92 L487.10,728.73 L488.10,728.55 L489.10,728.38 L490.10,728.20 L491.10,728.03 L492.10,727.85 L493.10,727.68 L494.10,727.52 L495.10,727.35 L496.10,727.19 L497.10,727.02 L498.10,726.86 L499.10,726.71 L500.10,726.55 L501.10,726.39 L502.10,726.24 L503.10,726.09 L504.10,725.94 L505.10,725.79 L506.10,725.65 L507.10,725.50 L508.10,725.36 L509.10,725.22 L510.10,725.08 L511.10,724.95 L512.10,724.81 L513.10,724.68 L514.10,724.55 L515.10,724.42 L516.10,724.29 L517.10,724.16 L518.10,724.04 L519.10,723.92 L520.10,723.80 L521.10,723.68 L522.10,723.56 L523.10,723.44 L524.10,723.33 L525.10,723.21 L526.10,723.10 L527.10,722.99 L528.10,722.88 L529.10,722.78 L530.10,722.67 L531.10,722.57 L532.10,722.46 L533.10,722.36 L534.10,722.26 L535.10,722.17 L536.10,722.07 L537.10,721.97 L538.10,721.88 L539.10,721.79 L540.10,721.70 L541.10,721.61 L542.10,721.52 L543.10,721.43 L544.10,721.35 L545.10,721.26 L546.10,721.18 L547.10,721.10 L548.10,721.02 L549.10,720.94 L550.10,720.86 L551.10,720.79 L552.10,720.71 L553.10,720.64 L554.10,720.57 L555.10,720.50 L556.10,720.43 L557.10,720.36 L558.10,720.29 L559.10,720.23 L560.10,720.16 L561.10,720.10 L562.10,720.03 L563.10,719.97 L564.10,719.91 L565.10,719.85 L566.10,719.80 L567.10,719.74 L568.10,719.68 L569.10,719.63 L570.10,719.57 L571.10,719.52 L572.10,719.47 L573.10,719.42 L574.10,719.37 L575.10,719.32 L576.10,719.27 L577.10,719.23 L578.10,719.18 L579.10,719.13 L580.10,719.09 L581.10,719.05 L582.10,719.01 L583.10,718.96 L584.10,718.92 L585.10,718.89 L586.10,718.85 L587.10,718.81 L588.10,718.77 L589.10,718.74 L590.10,718.70 L591.10,718.67 L592.10,718.63 L593.10,718.60 L594.10,718.57 L595.10,718.54 L596.10,718.51 L597.10,718.48 L598.10,718.45 L599.10,718.42 L600.10,718.39 L601.10,718.37 L602.10,718.34 L603.10,718.31 L604.10,718.29 L605.10,718.27 L606.10,718.24 L607.10,718.22 L608.10,718.20 L609.10,718.17 L610.10,718.15 L611.10,718.13 L612.10,718.11 L613.10,718.09 L614.10,718.07 L615.10,718.06 L616.10,718.04 L617.10,718.02 L618.10,718.00 L619.10,717.99 L620.10,717.97 L621.10,717.96 L622.10,717.94 L623.10,717.93 L624.10,717.91 L625.10,717.90 L626.10,717.89 L627.10,717.87 L628.10,717.86 L629.10,717.85 L630.10,717.84 L631.10,717.82 L632.10,717.81 L633.10,717.80 L634.10,717.79 L635.10,717.78 L636.10,717.77 L637.10,717.76 L638.10,717.75 L639.10,717.74 L640.10,717.73 L641.10,717.73 L642.10,717.72 L643.10,717.71 L644.10,717.70 L645.10,717.69 L646.10,717.68 L647.10,717.68 L648.10,717.67 L649.10,717.66 L650.10,717.65 L651.10,717.65 L652.10,717.64 L653.10,717.63 L654.10,717.63 L655.10,717.62 L656.10,717.61 L657.10,717.60 L658.10,717.60 L659.10,717.59 L660.10,717.58 L661.10,717.58 L662.10,717.57 L663.10,717.56 L664.10,717.56 L665.10,717.55 L666.10,717.54 L667.10,717.53 L668.10,717.53 L669.10,717.52 L670.10,717.51 L671.10,717.50 L672.10,717.50 L673.10,717.49 L674.10,717.48 L675.10,717.47 L675.20,717.47" stroke="#66BC89" stroke-width="1.80" fill="none" stroke-linejoin="round" stroke-linecap="butt"/>
<path d="M410.00,817.10V814.40M410.00,617.70V620.40M463.04,817.10V814.40M463.04,617.70V620.40M516.08,817.10V814.40M516.08,617.70V620.40M569.12,817.10V814.40M569.12,617.70V620.40M622.16,817.10V814.40M622.16,617.70V620.40M675.20,817.10V814.40M675.20,617.70V620.40M410.00,817.10H412.70M675.20,817.10H672.50M410.00,767.25H412.70M675.20,767.25H672.50M410.00,717.40H412.70M675.20,717.40H672.50M410.00,667.55H412.70M675.20,667.55H672.50M410.00,617.70H412.70M675.20,617.70H672.50" stroke="#6e6e6e" stroke-width="1.25" fill="none"/>
<rect x="410.00" y="617.70" width="265.20" height="199.40" fill="none" stroke="#6e6e6e" stroke-width="1.25"/>
<text x="410.25" y="834.90" font-size="14.20" text-anchor="middle" >0</text>
<text x="463.29" y="834.90" font-size="14.20" text-anchor="middle" >10</text>
<text x="516.33" y="834.90" font-size="14.20" text-anchor="middle" >20</text>
<text x="569.37" y="834.90" font-size="14.20" text-anchor="middle" >30</text>
<text x="622.41" y="834.90" font-size="14.20" text-anchor="middle" >40</text>
<text x="675.45" y="834.90" font-size="14.20" text-anchor="middle" >50</text>
<text x="405.50" y="822.60" font-size="14.20" text-anchor="end" >-100</text>
<text x="405.50" y="772.75" font-size="14.20" text-anchor="end" >-50</text>
<text x="405.50" y="722.90" font-size="14.20" text-anchor="end" >0</text>
<text x="405.50" y="673.05" font-size="14.20" text-anchor="end" >50</text>
<text x="405.50" y="623.20" font-size="14.20" text-anchor="end" >100</text>
<text x="542.60" y="851.20" font-size="17.00" text-anchor="middle"><tspan font-style="italic">t</tspan> (s)</text>
<text transform="translate(372.10,717.40) rotate(-90)" font-size="17.00" text-anchor="middle" textLength="60.8" lengthAdjust="spacingAndGlyphs"><tspan font-style="italic">a</tspan><tspan font-style="italic" font-size="11" dy="3.2">i</tspan><tspan dy="-3.2"> </tspan>(m/s<tspan font-size="10.5" dy="-5.5">2</tspan><tspan dy="5.5">)</tspan></text>
<text x="421.90" y="871.30" font-size="18.00" textLength="20.50" lengthAdjust="spacingAndGlyphs" fill="#222">(f)</text>
<text x="450.60" y="871.30" font-size="18.00" textLength="171.70" lengthAdjust="spacingAndGlyphs" fill="#222">Missile accelerations</text>
<rect x="358.2" y="565.1" width="1.6" height="1.6" fill="#808080"/>
</svg></body></html>
